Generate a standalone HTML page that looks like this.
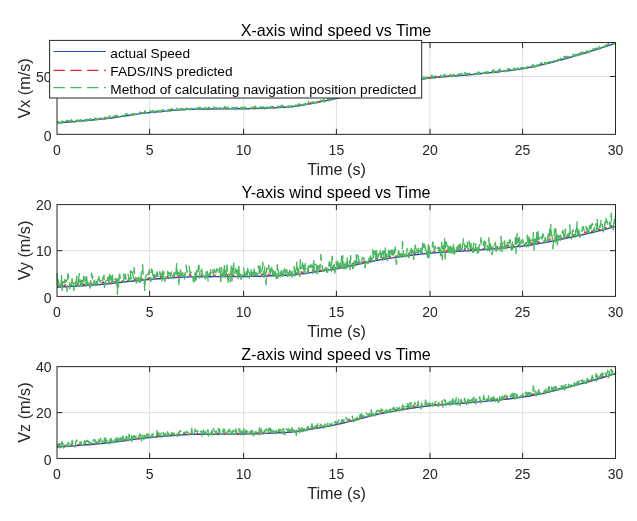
<!DOCTYPE html>
<html lang="en"><head><meta charset="utf-8"><title>Wind speed vs Time</title>
<style>html,body{margin:0;padding:0;background:#fff;}body{width:637px;height:521px;overflow:hidden;font-family:"Liberation Sans",Arial,sans-serif;}svg{display:block;}</style>
</head><body>
<svg width="637" height="521" viewBox="0 0 637 521" font-family="Liberation Sans, Arial, sans-serif">
<rect width="637" height="521" fill="#fff"/>
<g id="ax0">
<path d="M149.6 42.55V134.35M243.6 42.55V134.35M336.4 42.55V134.35M430 42.55V134.35M522.6 42.55V134.35M57 76.5H615.5" stroke="#dfdfdf" stroke-width="1" fill="none"/>
<path d="M57.0 122.9L58.9 122.8L60.7 122.6L62.6 122.5L64.5 122.4L66.3 122.2L68.2 122.1L70.0 122.0L71.9 121.8L73.8 121.7L75.6 121.5L77.5 121.4L79.4 121.2L81.2 121.0L83.1 120.9L85.0 120.7L86.8 120.5L88.7 120.4L90.6 120.2L92.4 120.0L94.3 119.8L96.1 119.6L98.0 119.4L99.9 119.2L101.7 119.1L103.6 118.9L105.5 118.7L107.3 118.4L109.2 118.2L111.1 118.0L112.9 117.7L114.8 117.5L116.6 117.2L118.5 116.9L120.4 116.6L122.2 116.4L124.1 116.1L126.0 115.8L127.8 115.5L129.7 115.2L131.6 114.9L133.4 114.7L135.3 114.4L137.2 114.1L139.0 113.9L140.9 113.6L142.7 113.4L144.6 113.2L146.5 112.9L148.3 112.7L150.2 112.5L152.1 112.4L153.9 112.2L155.8 112.0L157.7 111.8L159.5 111.6L161.4 111.5L163.2 111.3L165.1 111.1L167.0 110.9L168.8 110.8L170.7 110.6L172.6 110.4L174.4 110.3L176.3 110.1L178.2 110.0L180.0 109.8L181.9 109.7L183.8 109.6L185.6 109.5L187.5 109.4L189.3 109.3L191.2 109.2L193.1 109.2L194.9 109.1L196.8 109.1L198.7 109.1L200.5 109.1L202.4 109.0L204.3 109.0L206.1 109.0L208.0 109.0L209.8 109.0L211.7 109.0L213.6 109.0L215.4 108.9L217.3 108.9L219.2 108.9L221.0 108.9L222.9 108.9L224.8 108.9L226.6 108.9L228.5 108.9L230.4 108.9L232.2 108.9L234.1 108.9L235.9 108.8L237.8 108.8L239.7 108.8L241.5 108.8L243.4 108.8L245.3 108.7L247.1 108.7L249.0 108.7L250.9 108.6L252.7 108.6L254.6 108.5L256.4 108.5L258.3 108.4L260.2 108.4L262.0 108.3L263.9 108.2L265.8 108.2L267.6 108.1L269.5 108.0L271.4 107.9L273.2 107.8L275.1 107.7L277.0 107.6L278.8 107.5L280.7 107.4L282.5 107.3L284.4 107.2L286.3 107.1L288.1 106.9L290.0 106.8L291.9 106.7L293.7 106.5L295.6 106.2L297.5 106.0L299.3 105.7L301.2 105.4L303.0 105.1L304.9 104.7L306.8 104.4L308.6 104.0L310.5 103.7L312.4 103.3L314.2 102.9L316.1 102.6L318.0 102.2L319.8 101.9L321.7 101.5L323.6 101.2L325.4 100.8L327.3 100.4L329.1 100.0L331.0 99.7L332.9 99.3L334.7 98.8L336.6 98.4L338.5 98.0L340.3 97.6L342.2 97.1L344.1 96.6L345.9 96.1L347.8 95.6L349.6 95.1L351.5 94.6L353.4 94.1L355.2 93.5L357.1 93.0L359.0 92.5L360.8 91.9L362.7 91.4L364.6 90.9L366.4 90.3L368.3 89.8L370.2 89.3L372.0 88.8L373.9 88.3L375.7 87.9L377.6 87.4L379.5 87.0L381.3 86.6L383.2 86.2L385.1 85.8L386.9 85.4L388.8 85.0L390.7 84.6L392.5 84.2L394.4 83.9L396.2 83.5L398.1 83.1L400.0 82.8L401.8 82.4L403.7 82.1L405.6 81.8L407.4 81.4L409.3 81.1L411.2 80.8L413.0 80.5L414.9 80.2L416.8 79.9L418.6 79.6L420.5 79.3L422.3 79.1L424.2 78.8L426.1 78.6L427.9 78.3L429.8 78.1L431.7 77.9L433.5 77.7L435.4 77.5L437.3 77.3L439.1 77.2L441.0 77.0L442.8 76.8L444.7 76.7L446.6 76.5L448.4 76.4L450.3 76.2L452.2 76.1L454.0 76.0L455.9 75.8L457.8 75.7L459.6 75.5L461.5 75.4L463.4 75.2L465.2 75.1L467.1 74.9L468.9 74.8L470.8 74.6L472.7 74.5L474.5 74.3L476.4 74.1L478.3 73.9L480.1 73.7L482.0 73.5L483.9 73.4L485.7 73.2L487.6 73.0L489.4 72.8L491.3 72.6L493.2 72.4L495.0 72.2L496.9 72.0L498.8 71.8L500.6 71.6L502.5 71.4L504.4 71.2L506.2 70.9L508.1 70.7L510.0 70.5L511.8 70.2L513.7 70.0L515.5 69.7L517.4 69.4L519.3 69.2L521.1 68.9L523.0 68.6L524.9 68.3L526.7 68.0L528.6 67.6L530.5 67.3L532.3 66.9L534.2 66.5L536.0 66.1L537.9 65.7L539.8 65.3L541.6 64.8L543.5 64.4L545.4 63.9L547.2 63.5L549.1 63.0L551.0 62.5L552.8 62.0L554.7 61.5L556.6 61.0L558.4 60.5L560.3 60.0L562.1 59.5L564.0 59.0L565.9 58.5L567.7 58.0L569.6 57.5L571.5 57.0L573.3 56.4L575.2 55.9L577.1 55.4L578.9 54.9L580.8 54.3L582.6 53.8L584.5 53.2L586.4 52.7L588.2 52.1L590.1 51.5L592.0 50.9L593.8 50.3L595.7 49.8L597.6 49.2L599.4 48.6L601.3 47.9L603.2 47.3L605.0 46.7L606.9 46.1L608.7 45.5L610.6 44.8L612.5 44.2L614.3 43.5L615.5 42.9" stroke="#1f4fb4" stroke-width="1.4" fill="none" stroke-linejoin="round"/>
<path d="M57.0 122.5L57.9 122.4L58.9 122.4L59.8 122.5L60.7 122.3L61.7 122.3L62.6 122.2L63.5 121.9L64.5 122.1L65.4 122.0L66.3 121.8L67.3 121.8L68.2 121.8L69.1 121.8L70.0 121.6L71.0 121.5L71.9 121.6L72.8 121.5L73.8 121.5L74.7 121.4L75.6 121.4L76.6 121.1L77.5 121.2L78.4 120.9L79.4 120.8L80.3 120.8L81.2 121.0L82.2 120.7L83.1 120.5L84.0 120.4L85.0 120.5L85.9 120.3L86.8 120.3L87.8 120.2L88.7 119.9L89.6 120.0L90.6 119.8L91.5 119.6L92.4 119.7L93.3 119.6L94.3 119.5L95.2 119.4L96.1 119.4L97.1 119.2L98.0 118.9L98.9 119.2L99.9 118.8L100.8 118.8L101.7 118.8L102.7 118.4L103.6 118.4L104.5 118.6L105.5 118.3L106.4 118.1L107.3 118.1L108.3 117.9L109.2 117.9L110.1 117.7L111.1 117.5L112.0 117.6L112.9 117.3L113.9 117.3L114.8 117.1L115.7 117.1L116.6 116.9L117.6 116.7L118.5 116.5L119.4 116.3L120.4 116.4L121.3 116.2L122.2 115.9L123.2 116.1L124.1 115.8L125.0 115.6L126.0 115.3L126.9 115.2L127.8 115.2L128.8 115.1L129.7 114.9L130.6 114.6L131.6 114.6L132.5 114.5L133.4 114.3L134.4 114.2L135.3 114.1L136.2 114.0L137.2 113.8L138.1 113.7L139.0 113.4L139.9 113.3L140.9 113.3L141.8 113.1L142.7 113.1L143.7 112.8L144.6 112.8L145.5 112.6L146.5 112.7L147.4 112.4L148.3 112.6L149.3 112.5L150.2 112.2L151.1 112.2L152.1 112.0L153.0 111.7L153.9 111.9L154.9 111.8L155.8 111.6L156.7 111.5L157.7 111.5L158.6 111.4L159.5 111.2L160.5 111.1L161.4 111.2L162.3 111.0L163.2 110.9L164.2 111.0L165.1 110.7L166.0 110.8L167.0 110.5L167.9 110.5L168.8 110.4L169.8 110.4L170.7 110.3L171.6 110.4L172.6 110.2L173.5 110.0L174.4 110.2L175.4 109.8L176.3 110.0L177.2 109.6L178.2 109.7L179.1 109.5L180.0 109.5L181.0 109.6L181.9 109.2L182.8 109.2L183.8 109.3L184.7 109.2L185.6 109.2L186.5 109.2L187.5 108.9L188.4 109.1L189.3 109.0L190.3 109.0L191.2 109.0L192.1 109.0L193.1 108.7L194.0 108.8L194.9 108.7L195.9 108.8L196.8 108.8L197.7 108.8L198.7 108.8L199.6 108.7L200.5 108.8L201.5 108.7L202.4 108.9L203.3 108.8L204.3 108.5L205.2 108.7L206.1 108.8L207.1 108.6L208.0 108.5L208.9 108.8L209.8 108.7L210.8 108.7L211.7 108.8L212.6 108.5L213.6 108.6L214.5 108.6L215.4 108.7L216.4 108.5L217.3 108.7L218.2 108.6L219.2 108.7L220.1 108.7L221.0 108.4L222.0 108.6L222.9 108.5L223.8 108.6L224.8 108.6L225.7 108.6L226.6 108.5L227.6 108.6L228.5 108.6L229.4 108.5L230.4 108.4L231.3 108.4L232.2 108.5L233.1 108.6L234.1 108.7L235.0 108.4L235.9 108.4L236.9 108.5L237.8 108.4L238.7 108.4L239.7 108.4L240.6 108.3L241.5 108.5L242.5 108.3L243.4 108.6L244.3 108.3L245.3 108.3L246.2 108.3L247.1 108.1L248.1 108.2L249.0 108.5L249.9 108.5L250.9 108.2L251.8 108.4L252.7 108.2L253.7 108.1L254.6 108.4L255.5 108.4L256.4 108.1L257.4 108.1L258.3 108.1L259.2 108.1L260.2 108.1L261.1 108.2L262.0 108.0L263.0 108.0L263.9 108.1L264.8 107.8L265.8 107.8L266.7 107.7L267.6 107.9L268.6 107.8L269.5 107.8L270.4 107.7L271.4 107.5L272.3 107.6L273.2 107.4L274.2 107.4L275.1 107.1L276.0 107.5L277.0 107.2L277.9 107.2L278.8 107.2L279.7 107.3L280.7 107.1L281.6 106.9L282.5 107.0L283.5 106.9L284.4 106.9L285.3 106.6L286.3 106.7L287.2 106.9L288.1 106.7L289.1 106.8L290.0 106.8L290.9 106.5L291.9 106.2L292.8 106.2L293.7 106.3L294.7 106.1L295.6 105.8L296.5 105.8L297.5 105.6L298.4 105.5L299.3 105.4L300.3 105.1L301.2 105.0L302.1 104.9L303.0 104.9L304.0 104.5L304.9 104.5L305.8 104.1L306.8 104.2L307.7 103.9L308.6 103.7L309.6 103.6L310.5 103.1L311.4 103.0L312.4 103.0L313.3 102.7L314.2 102.5L315.2 102.7L316.1 102.2L317.0 102.1L318.0 101.9L318.9 101.8L319.8 101.6L320.8 101.4L321.7 101.0L322.6 101.0L323.6 100.8L324.5 100.5L325.4 100.5L326.3 100.3L327.3 100.3L328.2 99.7L329.1 99.6L330.1 99.4L331.0 99.2L331.9 99.1L332.9 98.9L333.8 98.7L334.7 98.5L335.7 98.3L336.6 97.9L337.5 97.8L338.5 97.7L339.4 97.5L340.3 97.3L341.3 96.8L342.2 96.7L343.1 96.5L344.1 96.3L345.0 96.2L345.9 95.8L346.9 95.4L347.8 95.3L348.7 95.0L349.6 94.8L350.6 94.5L351.5 94.4L352.4 94.0L353.4 93.8L354.3 93.4L355.2 93.3L356.2 92.9L357.1 92.5L358.0 92.4L359.0 92.2L359.9 91.8L360.8 91.6L361.8 91.4L362.7 91.0L363.6 90.6L364.6 90.6L365.5 90.3L366.4 90.1L367.4 89.7L368.3 89.6L369.2 89.4L370.2 88.8L371.1 88.8L372.0 88.4L372.9 88.1L373.9 88.0L374.8 87.7L375.7 87.3L376.7 87.3L377.6 87.1L378.5 87.0L379.5 86.6L380.4 86.2L381.3 86.1L382.3 86.1L383.2 85.9L384.1 85.7L385.1 85.4L386.0 85.3L386.9 85.0L387.9 84.8L388.8 84.7L389.7 84.5L390.7 84.3L391.6 84.1L392.5 83.8L393.5 83.5L394.4 83.5L395.3 83.3L396.2 83.4L397.2 82.9L398.1 83.0L399.0 82.8L400.0 82.4L400.9 82.2L401.8 82.1L402.8 82.1L403.7 81.8L404.6 81.7L405.6 81.3L406.5 81.0L407.4 81.1L408.4 81.0L409.3 80.9L410.2 80.6L411.2 80.5L412.1 80.4L413.0 80.1L414.0 80.1L414.9 79.7L415.8 79.6L416.8 79.4L417.7 79.5L418.6 79.2L419.5 79.1L420.5 79.0L421.4 78.9L422.3 78.9L423.3 78.8L424.2 78.4L425.1 78.4L426.1 78.2L427.0 78.0L427.9 78.2L428.9 78.0L429.8 77.8L430.7 77.6L431.7 77.6L432.6 77.4L433.5 77.3L434.5 77.4L435.4 77.3L436.3 77.0L437.3 76.9L438.2 77.1L439.1 76.7L440.1 76.7L441.0 76.5L441.9 76.6L442.8 76.5L443.8 76.5L444.7 76.0L445.6 76.3L446.6 76.0L447.5 76.2L448.4 76.0L449.4 76.2L450.3 75.9L451.2 75.7L452.2 75.9L453.1 75.6L454.0 75.6L455.0 75.7L455.9 75.5L456.8 75.5L457.8 75.3L458.7 75.3L459.6 75.3L460.6 75.2L461.5 75.2L462.4 75.1L463.4 74.9L464.3 74.7L465.2 74.9L466.1 74.7L467.1 74.7L468.0 74.6L468.9 74.3L469.9 74.4L470.8 74.1L471.7 74.3L472.7 74.1L473.6 74.1L474.5 74.0L475.5 73.8L476.4 73.8L477.3 73.6L478.3 73.6L479.2 73.6L480.1 73.4L481.1 73.3L482.0 73.1L482.9 73.2L483.9 73.0L484.8 73.1L485.7 72.8L486.7 72.9L487.6 72.8L488.5 72.6L489.4 72.3L490.4 72.5L491.3 72.4L492.2 72.2L493.2 72.2L494.1 71.9L495.0 72.0L496.0 71.8L496.9 71.6L497.8 71.6L498.8 71.4L499.7 71.5L500.6 71.4L501.6 71.3L502.5 70.8L503.4 71.0L504.4 70.8L505.3 70.7L506.2 70.6L507.2 70.5L508.1 70.1L509.0 70.4L510.0 70.3L510.9 70.1L511.8 70.0L512.7 69.7L513.7 69.5L514.6 69.6L515.5 69.5L516.5 69.3L517.4 68.9L518.3 69.3L519.3 68.8L520.2 68.8L521.1 68.4L522.1 68.5L523.0 68.3L523.9 68.3L524.9 68.1L525.8 67.6L526.7 67.5L527.7 67.5L528.6 67.4L529.5 67.3L530.5 67.0L531.4 66.7L532.3 66.6L533.3 66.4L534.2 66.3L535.1 66.0L536.0 65.8L537.0 65.4L537.9 65.1L538.8 65.2L539.8 65.0L540.7 64.7L541.6 64.6L542.6 64.3L543.5 64.0L544.4 63.9L545.4 63.5L546.3 63.4L547.2 63.1L548.2 62.9L549.1 62.7L550.0 62.5L551.0 62.2L551.9 62.0L552.8 61.6L553.8 61.4L554.7 61.3L555.6 60.9L556.6 60.8L557.5 60.5L558.4 60.2L559.3 60.2L560.3 59.7L561.2 59.4L562.1 59.2L563.1 58.9L564.0 58.7L564.9 58.5L565.9 58.2L566.8 57.9L567.7 57.6L568.7 57.5L569.6 57.1L570.5 56.9L571.5 56.6L572.4 56.4L573.3 56.0L574.3 56.0L575.2 55.5L576.1 55.3L577.1 55.0L578.0 54.7L578.9 54.6L579.9 54.3L580.8 53.9L581.7 53.6L582.6 53.4L583.6 53.3L584.5 52.8L585.4 52.5L586.4 52.2L587.3 52.0L588.2 51.9L589.2 51.3L590.1 51.2L591.0 51.2L592.0 50.5L592.9 50.5L593.8 50.2L594.8 49.8L595.7 49.3L596.6 49.2L597.6 48.8L598.5 48.3L599.4 48.0L600.4 47.9L601.3 47.6L602.2 47.4L603.2 47.1L604.1 46.6L605.0 46.3L605.9 46.0L606.9 45.6L607.8 45.5L608.7 45.1L609.7 44.7L610.6 44.4L611.5 44.0L612.5 43.8L613.4 43.6L614.3 43.2L615.3 43.0L615.5 42.7" stroke="#f0282d" stroke-width="1.6" fill="none" stroke-dasharray="2.5 7" stroke-linejoin="round"/>
<path d="M57.0 121.7L57.6 122.1L58.1 121.8L58.7 123.1L59.2 122.2L59.8 122.3L60.4 122.5L60.9 123.4L61.5 122.0L62.0 121.1L62.6 121.4L63.2 122.1L63.7 121.6L64.3 121.1L64.8 123.5L65.4 121.6L65.9 121.1L66.5 121.0L67.1 120.2L67.6 120.6L68.2 121.1L68.7 121.1L69.3 120.7L69.9 121.5L70.4 121.2L71.0 120.5L71.5 119.7L72.1 121.1L72.7 121.0L73.2 120.8L73.8 119.9L74.3 120.8L74.9 119.8L75.5 121.4L76.0 120.8L76.6 120.8L77.1 120.0L77.7 119.8L78.2 121.5L78.8 121.1L79.4 120.2L79.9 120.8L80.5 121.4L81.0 119.5L81.6 119.9L82.2 119.8L82.7 120.4L83.3 119.3L83.8 120.2L84.4 119.2L85.0 120.5L85.5 120.4L86.1 119.7L86.6 120.2L87.2 119.2L87.8 119.5L88.3 120.2L88.9 119.5L89.4 119.7L90.0 118.8L90.6 119.8L91.1 119.6L91.7 118.4L92.2 117.7L92.8 117.8L93.3 119.1L93.9 118.9L94.5 117.9L95.0 119.0L95.6 119.6L96.1 118.7L96.7 118.5L97.3 119.3L97.8 119.8L98.4 119.6L98.9 118.1L99.5 119.0L100.1 118.5L100.6 118.2L101.2 117.9L101.7 118.5L102.3 117.8L102.9 118.7L103.4 118.3L104.0 118.7L104.5 117.2L105.1 117.9L105.7 118.3L106.2 118.0L106.8 117.9L107.3 117.2L107.9 118.7L108.4 118.2L109.0 117.7L109.6 115.6L110.1 116.6L110.7 117.3L111.2 116.6L111.8 115.6L112.4 117.2L112.9 117.2L113.5 116.0L114.0 116.4L114.6 116.2L115.2 117.0L115.7 115.2L116.3 115.3L116.8 116.0L117.4 115.8L118.0 117.6L118.5 115.7L119.1 116.2L119.6 115.6L120.2 115.4L120.7 116.0L121.3 116.9L121.9 115.4L122.4 116.0L123.0 115.7L123.5 115.8L124.1 115.5L124.7 116.8L125.2 114.3L125.8 114.8L126.3 114.2L126.9 113.5L127.5 114.7L128.0 115.9L128.6 115.2L129.1 115.3L129.7 114.8L130.3 114.3L130.8 115.6L131.4 113.9L131.9 115.1L132.5 113.8L133.1 114.0L133.6 114.0L134.2 113.8L134.7 114.0L135.3 114.0L135.8 114.7L136.4 113.4L137.0 112.1L137.5 111.9L138.1 112.3L138.6 112.6L139.2 113.5L139.8 112.0L140.3 112.9L140.9 112.9L141.4 112.9L142.0 112.6L142.6 112.9L143.1 112.6L143.7 113.2L144.2 112.6L144.8 110.8L145.4 112.3L145.9 112.4L146.5 111.8L147.0 111.6L147.6 112.8L148.1 112.1L148.7 111.3L149.3 111.6L149.8 111.7L150.4 110.7L150.9 112.1L151.5 111.6L152.1 111.9L152.6 110.5L153.2 112.8L153.7 111.9L154.3 111.7L154.9 110.8L155.4 110.8L156.0 110.2L156.5 112.2L157.1 110.6L157.7 111.2L158.2 111.4L158.8 110.5L159.3 111.5L159.9 112.2L160.5 111.0L161.0 111.7L161.6 111.1L162.1 110.3L162.7 110.3L163.2 109.4L163.8 110.6L164.4 111.4L164.9 110.8L165.5 110.9L166.0 111.0L166.6 109.9L167.2 110.5L167.7 111.4L168.3 109.5L168.8 110.0L169.4 109.7L170.0 109.8L170.5 109.4L171.1 109.7L171.6 108.9L172.2 109.4L172.8 109.3L173.3 109.3L173.9 110.5L174.4 109.6L175.0 109.6L175.6 109.2L176.1 110.3L176.7 108.2L177.2 109.2L177.8 110.0L178.3 110.3L178.9 109.3L179.5 109.1L180.0 109.5L180.6 108.9L181.1 109.4L181.7 108.5L182.3 109.4L182.8 108.9L183.4 108.1L183.9 107.0L184.5 109.4L185.1 109.0L185.6 109.3L186.2 108.1L186.7 109.4L187.3 108.9L187.9 108.6L188.4 109.2L189.0 109.2L189.5 108.8L190.1 109.9L190.6 109.5L191.2 108.7L191.8 108.3L192.3 108.5L192.9 109.6L193.4 108.7L194.0 107.8L194.6 108.0L195.1 108.4L195.7 108.9L196.2 107.9L196.8 108.7L197.4 109.1L197.9 108.8L198.5 107.3L199.0 108.1L199.6 107.5L200.2 108.6L200.7 107.6L201.3 108.7L201.8 108.4L202.4 106.5L203.0 107.7L203.5 108.6L204.1 108.3L204.6 108.0L205.2 107.4L205.7 108.5L206.3 109.4L206.9 108.4L207.4 108.2L208.0 108.1L208.5 107.3L209.1 108.0L209.7 107.6L210.2 108.9L210.8 107.6L211.3 106.7L211.9 107.6L212.5 108.0L213.0 108.1L213.6 106.9L214.1 108.8L214.7 108.2L215.3 107.8L215.8 107.6L216.4 108.4L216.9 107.9L217.5 108.3L218.0 108.1L218.6 108.2L219.2 108.9L219.7 108.1L220.3 107.5L220.8 108.8L221.4 108.3L222.0 107.7L222.5 108.9L223.1 108.0L223.6 108.8L224.2 107.3L224.8 106.5L225.3 106.7L225.9 108.2L226.4 107.6L227.0 108.0L227.6 108.0L228.1 107.0L228.7 109.0L229.2 107.4L229.8 108.1L230.4 107.1L230.9 107.9L231.5 108.5L232.0 107.9L232.6 107.6L233.1 108.0L233.7 107.7L234.3 108.4L234.8 109.5L235.4 107.4L235.9 107.6L236.5 107.9L237.1 108.0L237.6 107.3L238.2 108.3L238.7 108.5L239.3 108.1L239.9 107.2L240.4 108.9L241.0 107.2L241.5 108.4L242.1 108.7L242.7 107.1L243.2 108.0L243.8 108.8L244.3 108.2L244.9 107.3L245.5 107.1L246.0 108.2L246.6 107.6L247.1 107.4L247.7 108.3L248.2 107.6L248.8 107.9L249.4 108.2L249.9 108.2L250.5 107.8L251.0 107.8L251.6 108.2L252.2 108.1L252.7 107.0L253.3 107.6L253.8 107.1L254.4 106.9L255.0 107.3L255.5 106.1L256.1 108.3L256.6 107.1L257.2 107.9L257.8 106.4L258.3 106.5L258.9 109.0L259.4 108.3L260.0 107.1L260.5 107.0L261.1 107.0L261.7 107.6L262.2 107.2L262.8 107.0L263.3 107.5L263.9 106.7L264.5 109.0L265.0 107.0L265.6 108.1L266.1 106.7L266.7 107.5L267.3 107.9L267.8 107.0L268.4 107.9L268.9 107.8L269.5 108.3L270.1 107.2L270.6 106.8L271.2 106.4L271.7 107.2L272.3 106.3L272.9 107.0L273.4 107.1L274.0 106.6L274.5 106.2L275.1 107.2L275.6 107.1L276.2 107.0L276.8 106.8L277.3 107.4L277.9 106.1L278.4 107.0L279.0 106.4L279.6 107.2L280.1 106.4L280.7 106.3L281.2 106.9L281.8 105.2L282.4 106.3L282.9 105.3L283.5 105.8L284.0 106.9L284.6 106.6L285.2 106.0L285.7 106.3L286.3 106.2L286.8 106.4L287.4 107.4L287.9 106.3L288.5 107.6L289.1 105.8L289.6 106.5L290.2 106.5L290.7 106.1L291.3 105.7L291.9 106.8L292.4 107.0L293.0 106.5L293.5 107.1L294.1 106.3L294.7 104.5L295.2 106.2L295.8 105.0L296.3 106.3L296.9 105.1L297.5 105.4L298.0 105.1L298.6 104.6L299.1 103.7L299.7 104.7L300.3 104.7L300.8 105.3L301.4 104.2L301.9 104.6L302.5 103.8L303.0 104.3L303.6 103.0L304.2 105.4L304.7 104.2L305.3 103.3L305.8 104.0L306.4 104.2L307.0 103.7L307.5 104.4L308.1 103.2L308.6 101.5L309.2 102.3L309.8 103.8L310.3 103.5L310.9 103.1L311.4 102.0L312.0 103.1L312.6 102.9L313.1 101.7L313.7 101.6L314.2 102.4L314.8 102.8L315.4 103.0L315.9 102.3L316.5 103.2L317.0 101.1L317.6 101.9L318.1 101.1L318.7 100.0L319.3 100.4L319.8 101.9L320.4 100.4L320.9 100.1L321.5 101.3L322.1 101.3L322.6 100.6L323.2 101.5L323.7 99.3L324.3 101.9L324.9 100.9L325.4 100.2L326.0 100.0L326.5 99.7L327.1 99.5L327.7 99.7L328.2 98.6L328.8 100.8L329.3 99.2L329.9 99.6L330.4 98.9L331.0 98.7L331.6 99.4L332.1 99.1L332.7 97.9L333.2 98.1L333.8 98.7L334.4 96.7L334.9 96.4L335.5 98.9L336.0 97.5L336.6 95.9L337.2 97.0L337.7 97.2L338.3 97.4L338.8 97.5L339.4 97.1L340.0 97.2L340.5 96.2L341.1 96.8L341.6 96.7L342.2 97.1L342.8 96.2L343.3 96.6L343.9 96.0L344.4 95.0L345.0 95.3L345.5 95.1L346.1 95.0L346.7 95.1L347.2 95.1L347.8 95.0L348.3 94.1L348.9 95.3L349.5 93.4L350.0 94.2L350.6 94.6L351.1 94.2L351.7 94.2L352.3 93.5L352.8 93.9L353.4 92.5L353.9 93.6L354.5 94.5L355.1 93.3L355.6 94.0L356.2 92.5L356.7 91.6L357.3 91.7L357.8 92.9L358.4 92.3L359.0 90.4L359.5 91.3L360.1 91.3L360.6 90.5L361.2 89.3L361.8 90.0L362.3 90.6L362.9 90.3L363.4 90.0L364.0 90.6L364.6 90.8L365.1 89.9L365.7 90.4L366.2 89.6L366.8 89.4L367.4 87.7L367.9 89.7L368.5 89.1L369.0 88.9L369.6 88.4L370.2 87.8L370.7 88.7L371.3 88.8L371.8 89.2L372.4 88.6L372.9 87.4L373.5 87.6L374.1 88.2L374.6 87.6L375.2 87.2L375.7 86.7L376.3 87.3L376.9 87.0L377.4 87.9L378.0 87.3L378.5 85.3L379.1 87.8L379.7 86.4L380.2 85.8L380.8 86.1L381.3 86.3L381.9 85.7L382.5 85.5L383.0 85.4L383.6 86.6L384.1 85.3L384.7 85.6L385.3 85.3L385.8 84.7L386.4 84.3L386.9 84.0L387.5 84.8L388.0 83.7L388.6 83.4L389.2 83.3L389.7 83.1L390.3 84.0L390.8 83.9L391.4 83.1L392.0 84.5L392.5 83.3L393.1 83.7L393.6 83.5L394.2 84.3L394.8 83.6L395.3 82.9L395.9 82.2L396.4 82.0L397.0 82.6L397.6 82.6L398.1 82.9L398.7 82.0L399.2 82.3L399.8 81.6L400.3 80.7L400.9 81.8L401.5 82.7L402.0 82.2L402.6 82.5L403.1 82.2L403.7 80.4L404.3 81.0L404.8 82.1L405.4 80.5L405.9 80.0L406.5 81.0L407.1 81.2L407.6 80.8L408.2 80.3L408.7 80.0L409.3 79.5L409.9 79.4L410.4 79.3L411.0 79.1L411.5 79.5L412.1 80.9L412.7 79.8L413.2 79.4L413.8 79.8L414.3 78.8L414.9 79.6L415.4 79.9L416.0 78.2L416.6 78.7L417.1 78.9L417.7 78.3L418.2 78.1L418.8 78.5L419.4 80.4L419.9 79.1L420.5 78.8L421.0 79.1L421.6 78.2L422.2 77.5L422.7 78.5L423.3 78.9L423.8 76.7L424.4 78.3L425.0 78.8L425.5 77.7L426.1 77.5L426.6 78.2L427.2 77.1L427.7 77.9L428.3 78.1L428.9 77.3L429.4 76.8L430.0 77.7L430.5 77.0L431.1 77.2L431.7 75.2L432.2 77.5L432.8 76.0L433.3 77.0L433.9 77.0L434.5 76.3L435.0 76.1L435.6 75.8L436.1 76.4L436.7 77.0L437.3 76.9L437.8 76.1L438.4 76.0L438.9 75.4L439.5 76.0L440.1 75.6L440.6 75.2L441.2 76.1L441.7 77.2L442.3 76.9L442.8 77.0L443.4 74.9L444.0 76.5L444.5 75.0L445.1 75.4L445.6 74.6L446.2 75.1L446.8 75.8L447.3 75.8L447.9 75.6L448.4 75.5L449.0 75.9L449.6 75.5L450.1 74.3L450.7 76.6L451.2 75.2L451.8 75.9L452.4 75.2L452.9 74.7L453.5 75.2L454.0 74.6L454.6 76.2L455.2 74.3L455.7 75.4L456.3 74.6L456.8 74.8L457.4 76.7L457.9 75.4L458.5 74.7L459.1 73.7L459.6 74.5L460.2 74.5L460.7 75.6L461.3 73.6L461.9 73.3L462.4 74.5L463.0 74.6L463.5 75.5L464.1 73.8L464.7 72.5L465.2 73.8L465.8 73.4L466.3 73.8L466.9 74.8L467.5 73.2L468.0 74.9L468.6 74.2L469.1 73.8L469.7 73.3L470.2 73.6L470.8 73.6L471.4 74.3L471.9 74.6L472.5 73.6L473.0 74.1L473.6 74.5L474.2 74.4L474.7 73.8L475.3 74.7L475.8 74.3L476.4 74.4L477.0 73.1L477.5 72.9L478.1 71.8L478.6 74.1L479.2 73.5L479.8 72.3L480.3 73.1L480.9 73.1L481.4 71.6L482.0 73.0L482.6 73.5L483.1 73.5L483.7 72.3L484.2 72.3L484.8 73.4L485.3 73.1L485.9 72.0L486.5 71.9L487.0 72.7L487.6 71.8L488.1 71.7L488.7 73.3L489.3 72.2L489.8 71.7L490.4 72.3L490.9 73.3L491.5 72.0L492.1 71.2L492.6 70.6L493.2 73.1L493.7 69.7L494.3 72.3L494.9 70.8L495.4 70.5L496.0 70.6L496.5 71.1L497.1 72.0L497.6 70.7L498.2 71.5L498.8 72.7L499.3 69.0L499.9 70.4L500.4 69.6L501.0 71.4L501.6 69.7L502.1 69.5L502.7 69.5L503.2 70.5L503.8 71.2L504.4 70.5L504.9 71.8L505.5 71.4L506.0 70.1L506.6 70.8L507.2 70.1L507.7 70.0L508.3 68.5L508.8 68.9L509.4 69.8L510.0 68.8L510.5 70.1L511.1 69.7L511.6 68.8L512.2 70.2L512.7 69.5L513.3 70.1L513.9 69.1L514.4 67.9L515.0 69.5L515.5 68.7L516.1 69.4L516.7 69.5L517.2 69.5L517.8 67.6L518.3 66.9L518.9 68.1L519.5 68.8L520.0 67.8L520.6 68.4L521.1 67.5L521.7 67.8L522.3 67.7L522.8 67.4L523.4 68.1L523.9 67.9L524.5 68.7L525.1 67.8L525.6 68.3L526.2 67.4L526.7 67.8L527.3 67.0L527.8 66.7L528.4 67.8L529.0 67.3L529.5 67.3L530.1 66.0L530.6 65.3L531.2 65.7L531.8 66.5L532.3 65.1L532.9 67.0L533.4 64.8L534.0 66.2L534.6 67.5L535.1 63.7L535.7 64.3L536.2 66.0L536.8 65.0L537.4 65.2L537.9 64.8L538.5 65.8L539.0 65.1L539.6 64.2L540.1 64.2L540.7 63.4L541.3 64.1L541.8 62.4L542.4 64.3L542.9 63.5L543.5 64.9L544.1 64.3L544.6 62.4L545.2 63.8L545.7 62.7L546.3 62.9L546.9 63.5L547.4 62.8L548.0 62.8L548.5 62.7L549.1 61.7L549.7 61.6L550.2 62.3L550.8 62.4L551.3 61.4L551.9 61.5L552.5 60.6L553.0 59.3L553.6 60.4L554.1 60.9L554.7 60.8L555.2 61.1L555.8 61.0L556.4 61.0L556.9 60.4L557.5 60.3L558.0 59.3L558.6 59.9L559.2 59.6L559.7 60.2L560.3 58.1L560.8 58.7L561.4 57.7L562.0 58.2L562.5 57.6L563.1 58.6L563.6 57.8L564.2 56.3L564.8 58.8L565.3 57.0L565.9 56.5L566.4 57.2L567.0 56.8L567.5 56.3L568.1 57.5L568.7 56.6L569.2 57.4L569.8 57.1L570.3 56.9L570.9 56.4L571.5 56.1L572.0 55.7L572.6 56.8L573.1 54.3L573.7 54.7L574.3 54.9L574.8 55.5L575.4 55.1L575.9 54.5L576.5 54.5L577.1 55.8L577.6 53.9L578.2 52.2L578.7 55.4L579.3 53.2L579.9 53.5L580.4 53.7L581.0 52.5L581.5 54.1L582.1 53.0L582.6 51.9L583.2 52.9L583.8 52.9L584.3 52.4L584.9 52.6L585.4 51.0L586.0 52.6L586.6 51.2L587.1 52.5L587.7 51.0L588.2 51.4L588.8 52.9L589.4 50.9L589.9 51.5L590.5 50.9L591.0 49.3L591.6 51.0L592.2 50.8L592.7 48.9L593.3 49.6L593.8 48.5L594.4 49.1L595.0 49.8L595.5 49.1L596.1 48.0L596.6 48.0L597.2 48.5L597.7 48.3L598.3 48.2L598.9 48.3L599.4 46.4L600.0 47.6L600.5 48.2L601.1 47.5L601.7 46.5L602.2 46.4L602.8 46.8L603.3 46.9L603.9 46.3L604.5 47.3L605.0 46.8L605.6 45.2L606.1 45.9L606.7 45.1L607.3 44.3L607.8 44.5L608.4 44.8L608.9 43.1L609.5 43.9L610.0 44.5L610.6 43.5L611.2 43.5L611.7 44.2L612.3 43.4L612.8 43.4L613.4 44.5L614.0 43.0L614.5 42.9L615.1 42.8L615.5 43.5L615.5 42.5" stroke="#4cb762" stroke-width="1.4" fill="none" stroke-dasharray="11.5 4.5" stroke-linejoin="round"/>
<rect x="57" y="42.55" width="558.5" height="91.8" fill="none" stroke="#262626" stroke-width="1"/>
<path d="M149.6 134.35v-5.5M149.6 42.55v5.5M243.6 134.35v-5.5M243.6 42.55v5.5M336.4 134.35v-5.5M336.4 42.55v5.5M430 134.35v-5.5M430 42.55v5.5M522.6 134.35v-5.5M522.6 42.55v5.5M57 76.5h5.5M615.5 76.5h-5.5" stroke="#262626" stroke-width="1" fill="none"/>
<g font-size="14" fill="#262626">
<text x="57" y="154.55" text-anchor="middle">0</text>
<text x="149.6" y="154.55" text-anchor="middle">5</text>
<text x="243.6" y="154.55" text-anchor="middle">10</text>
<text x="336.4" y="154.55" text-anchor="middle">15</text>
<text x="430" y="154.55" text-anchor="middle">20</text>
<text x="522.6" y="154.55" text-anchor="middle">25</text>
<text x="615.6" y="154.55" text-anchor="middle">30</text>
<text x="51.5" y="140.75" text-anchor="end">0</text>
<text x="51.5" y="82" text-anchor="end">50</text>
</g>
<text x="336.6" y="174.55" font-size="16.2" fill="#262626" text-anchor="middle">Time (s)</text>
<text transform="translate(29.8 88.45) rotate(-90)" font-size="16.2" fill="#262626" text-anchor="middle">Vx (m/s)</text>
<text x="336" y="35.65" font-size="16.1" fill="#000" text-anchor="middle">X-axis wind speed vs Time</text>
</g>
<g id="ax1">
<path d="M149.6 204.6V296.4M243.6 204.6V296.4M336.4 204.6V296.4M430 204.6V296.4M522.6 204.6V296.4M57 250.7H615.5" stroke="#dfdfdf" stroke-width="1" fill="none"/>
<path d="M57.0 287.2L58.9 287.1L60.7 287.0L62.6 286.9L64.5 286.8L66.3 286.7L68.2 286.6L70.0 286.5L71.9 286.4L73.8 286.3L75.6 286.2L77.5 286.1L79.4 285.9L81.2 285.8L83.1 285.7L85.0 285.6L86.8 285.4L88.7 285.3L90.6 285.2L92.4 285.0L94.3 284.9L96.1 284.8L98.0 284.6L99.9 284.5L101.7 284.3L103.6 284.2L105.5 284.0L107.3 283.8L109.2 283.7L111.1 283.5L112.9 283.3L114.8 283.1L116.6 282.9L118.5 282.7L120.4 282.5L122.2 282.3L124.1 282.1L126.0 281.8L127.8 281.6L129.7 281.4L131.6 281.2L133.4 281.0L135.3 280.8L137.2 280.6L139.0 280.4L140.9 280.2L142.7 280.0L144.6 279.8L146.5 279.7L148.3 279.5L150.2 279.4L152.1 279.2L153.9 279.1L155.8 279.0L157.7 278.8L159.5 278.7L161.4 278.5L163.2 278.4L165.1 278.3L167.0 278.1L168.8 278.0L170.7 277.9L172.6 277.8L174.4 277.6L176.3 277.5L178.2 277.4L180.0 277.3L181.9 277.2L183.8 277.1L185.6 277.1L187.5 277.0L189.3 276.9L191.2 276.9L193.1 276.8L194.9 276.8L196.8 276.8L198.7 276.7L200.5 276.7L202.4 276.7L204.3 276.7L206.1 276.7L208.0 276.7L209.8 276.7L211.7 276.7L213.6 276.6L215.4 276.6L217.3 276.6L219.2 276.6L221.0 276.6L222.9 276.6L224.8 276.6L226.6 276.6L228.5 276.6L230.4 276.6L232.2 276.6L234.1 276.6L235.9 276.6L237.8 276.5L239.7 276.5L241.5 276.5L243.4 276.5L245.3 276.5L247.1 276.5L249.0 276.4L250.9 276.4L252.7 276.4L254.6 276.3L256.4 276.3L258.3 276.2L260.2 276.2L262.0 276.1L263.9 276.1L265.8 276.0L267.6 276.0L269.5 275.9L271.4 275.8L273.2 275.8L275.1 275.7L277.0 275.6L278.8 275.6L280.7 275.5L282.5 275.4L284.4 275.3L286.3 275.2L288.1 275.1L290.0 275.0L291.9 274.9L293.7 274.8L295.6 274.6L297.5 274.4L299.3 274.2L301.2 273.9L303.0 273.7L304.9 273.4L306.8 273.2L308.6 272.9L310.5 272.6L312.4 272.3L314.2 272.1L316.1 271.8L318.0 271.5L319.8 271.3L321.7 271.0L323.6 270.7L325.4 270.4L327.3 270.2L329.1 269.9L331.0 269.6L332.9 269.3L334.7 269.0L336.6 268.6L338.5 268.3L340.3 268.0L342.2 267.6L344.1 267.3L345.9 266.9L347.8 266.5L349.6 266.1L351.5 265.7L353.4 265.3L355.2 264.9L357.1 264.5L359.0 264.1L360.8 263.7L362.7 263.3L364.6 262.9L366.4 262.5L368.3 262.1L370.2 261.7L372.0 261.3L373.9 261.0L375.7 260.6L377.6 260.3L379.5 259.9L381.3 259.6L383.2 259.3L385.1 259.0L386.9 258.7L388.8 258.4L390.7 258.1L392.5 257.9L394.4 257.6L396.2 257.3L398.1 257.0L400.0 256.8L401.8 256.5L403.7 256.2L405.6 256.0L407.4 255.7L409.3 255.5L411.2 255.2L413.0 255.0L414.9 254.8L416.8 254.6L418.6 254.3L420.5 254.1L422.3 253.9L424.2 253.7L426.1 253.6L427.9 253.4L429.8 253.2L431.7 253.0L433.5 252.9L435.4 252.8L437.3 252.6L439.1 252.5L441.0 252.4L442.8 252.2L444.7 252.1L446.6 252.0L448.4 251.9L450.3 251.8L452.2 251.7L454.0 251.6L455.9 251.5L457.8 251.3L459.6 251.2L461.5 251.1L463.4 251.0L465.2 250.9L467.1 250.8L468.9 250.7L470.8 250.6L472.7 250.4L474.5 250.3L476.4 250.2L478.3 250.0L480.1 249.9L482.0 249.7L483.9 249.6L485.7 249.4L487.6 249.3L489.4 249.2L491.3 249.0L493.2 248.9L495.0 248.7L496.9 248.6L498.8 248.4L500.6 248.2L502.5 248.1L504.4 247.9L506.2 247.7L508.1 247.6L510.0 247.4L511.8 247.2L513.7 247.0L515.5 246.8L517.4 246.6L519.3 246.4L521.1 246.2L523.0 246.0L524.9 245.7L526.7 245.5L528.6 245.2L530.5 245.0L532.3 244.7L534.2 244.4L536.0 244.1L537.9 243.8L539.8 243.4L541.6 243.1L543.5 242.8L545.4 242.4L547.2 242.1L549.1 241.7L551.0 241.3L552.8 241.0L554.7 240.6L556.6 240.2L558.4 239.8L560.3 239.4L562.1 239.1L564.0 238.7L565.9 238.3L567.7 237.9L569.6 237.5L571.5 237.1L573.3 236.7L575.2 236.3L577.1 235.9L578.9 235.5L580.8 235.1L582.6 234.7L584.5 234.3L586.4 233.9L588.2 233.4L590.1 233.0L592.0 232.5L593.8 232.1L595.7 231.6L597.6 231.2L599.4 230.7L601.3 230.3L603.2 229.8L605.0 229.3L606.9 228.9L608.7 228.4L610.6 227.9L612.5 227.4L614.3 226.9L615.5 226.4" stroke="#1f4fb4" stroke-width="1.4" fill="none" stroke-linejoin="round"/>
<path d="M57.0 285.9L57.9 285.8L58.9 286.3L59.8 285.4L60.7 286.2L61.7 285.7L62.6 285.0L63.5 285.8L64.5 285.7L65.4 284.9L66.3 285.5L67.3 285.5L68.2 285.2L69.1 284.7L70.0 286.2L71.0 285.5L71.9 285.5L72.8 285.5L73.8 285.3L74.7 285.3L75.6 284.7L76.6 285.2L77.5 284.6L78.4 284.4L79.4 284.9L80.3 284.4L81.2 283.7L82.2 284.2L83.1 284.6L84.0 284.3L85.0 284.6L85.9 284.0L86.8 283.7L87.8 284.4L88.7 284.0L89.6 283.3L90.6 284.0L91.5 283.6L92.4 284.1L93.3 284.0L94.3 283.8L95.2 282.4L96.1 283.6L97.1 283.5L98.0 283.5L98.9 283.2L99.9 282.8L100.8 282.9L101.7 282.0L102.7 282.8L103.6 282.1L104.5 282.6L105.5 282.4L106.4 283.2L107.3 282.5L108.3 282.4L109.2 282.4L110.1 283.2L111.1 281.7L112.0 282.2L112.9 282.1L113.9 281.9L114.8 281.8L115.7 281.4L116.6 282.1L117.6 281.8L118.5 281.2L119.4 281.1L120.4 281.3L121.3 281.3L122.2 281.3L123.2 280.8L124.1 280.1L125.0 281.1L126.0 279.8L126.9 280.0L127.8 280.4L128.8 279.8L129.7 280.7L130.6 280.7L131.6 280.4L132.5 279.9L133.4 279.8L134.4 279.7L135.3 279.3L136.2 280.3L137.2 279.0L138.1 279.7L139.0 279.3L139.9 279.1L140.9 279.3L141.8 279.3L142.7 279.1L143.7 278.5L144.6 278.2L145.5 278.1L146.5 278.7L147.4 278.6L148.3 278.6L149.3 277.9L150.2 278.9L151.1 277.4L152.1 278.1L153.0 278.1L153.9 277.6L154.9 277.2L155.8 277.4L156.7 277.0L157.7 277.4L158.6 276.8L159.5 276.7L160.5 277.3L161.4 276.5L162.3 277.0L163.2 277.0L164.2 277.4L165.1 277.0L166.0 276.5L167.0 277.4L167.9 276.4L168.8 276.5L169.8 276.4L170.7 277.5L171.6 276.5L172.6 276.1L173.5 276.7L174.4 276.2L175.4 277.3L176.3 275.8L177.2 276.4L178.2 275.6L179.1 276.8L180.0 275.6L181.0 276.0L181.9 275.5L182.8 276.2L183.8 276.0L184.7 274.7L185.6 276.1L186.5 276.0L187.5 275.7L188.4 276.0L189.3 275.0L190.3 274.7L191.2 275.8L192.1 276.3L193.1 274.9L194.0 274.9L194.9 275.0L195.9 274.9L196.8 275.8L197.7 275.4L198.7 276.0L199.6 276.0L200.5 274.9L201.5 275.6L202.4 274.3L203.3 275.3L204.3 275.6L205.2 274.9L206.1 274.5L207.1 275.1L208.0 275.9L208.9 275.1L209.8 274.7L210.8 275.5L211.7 275.6L212.6 274.8L213.6 275.2L214.5 275.8L215.4 275.4L216.4 275.6L217.3 275.1L218.2 275.2L219.2 274.7L220.1 274.9L221.0 276.0L222.0 275.0L222.9 274.8L223.8 275.0L224.8 274.8L225.7 275.5L226.6 275.7L227.6 274.8L228.5 275.7L229.4 276.2L230.4 274.7L231.3 275.5L232.2 275.3L233.1 275.8L234.1 275.8L235.0 275.7L235.9 275.3L236.9 275.0L237.8 276.2L238.7 274.8L239.7 275.7L240.6 275.6L241.5 274.8L242.5 275.2L243.4 275.8L244.3 274.3L245.3 275.5L246.2 275.0L247.1 275.0L248.1 274.4L249.0 275.3L249.9 274.6L250.9 275.4L251.8 274.5L252.7 275.3L253.7 275.1L254.6 274.1L255.5 274.8L256.4 274.9L257.4 273.9L258.3 274.7L259.2 275.2L260.2 274.5L261.1 275.3L262.0 274.3L263.0 274.2L263.9 275.0L264.8 275.0L265.8 274.6L266.7 274.6L267.6 275.0L268.6 274.3L269.5 275.5L270.4 274.7L271.4 274.7L272.3 274.6L273.2 274.3L274.2 274.9L275.1 274.1L276.0 274.4L277.0 274.6L277.9 274.8L278.8 274.7L279.7 274.0L280.7 274.5L281.6 274.0L282.5 273.5L283.5 273.5L284.4 273.2L285.3 274.0L286.3 274.3L287.2 273.3L288.1 273.6L289.1 273.2L290.0 273.6L290.9 273.0L291.9 273.1L292.8 273.1L293.7 273.1L294.7 273.1L295.6 273.1L296.5 273.0L297.5 272.6L298.4 273.1L299.3 272.0L300.3 272.7L301.2 272.1L302.1 272.5L303.0 272.4L304.0 271.3L304.9 272.2L305.8 272.5L306.8 272.1L307.7 271.8L308.6 270.5L309.6 271.3L310.5 270.8L311.4 271.6L312.4 270.8L313.3 270.5L314.2 269.9L315.2 270.9L316.1 270.1L317.0 270.1L318.0 270.6L318.9 270.0L319.8 270.0L320.8 270.8L321.7 269.3L322.6 269.2L323.6 269.5L324.5 269.8L325.4 268.4L326.3 268.8L327.3 268.3L328.2 268.0L329.1 268.7L330.1 268.0L331.0 268.3L331.9 268.1L332.9 267.9L333.8 267.7L334.7 267.1L335.7 267.4L336.6 267.3L337.5 267.2L338.5 266.8L339.4 267.2L340.3 266.8L341.3 266.5L342.2 266.5L343.1 266.1L344.1 266.2L345.0 264.8L345.9 264.9L346.9 265.1L347.8 265.2L348.7 263.9L349.6 264.6L350.6 264.6L351.5 264.2L352.4 264.0L353.4 263.3L354.3 263.8L355.2 262.6L356.2 263.7L357.1 262.8L358.0 263.4L359.0 261.9L359.9 262.7L360.8 262.4L361.8 261.7L362.7 261.3L363.6 262.2L364.6 261.7L365.5 262.0L366.4 261.1L367.4 261.0L368.3 260.9L369.2 260.8L370.2 260.5L371.1 260.5L372.0 259.7L372.9 259.1L373.9 260.5L374.8 259.5L375.7 259.4L376.7 258.8L377.6 259.3L378.5 258.8L379.5 259.0L380.4 258.1L381.3 258.2L382.3 258.2L383.2 257.8L384.1 257.9L385.1 258.4L386.0 257.2L386.9 257.2L387.9 257.3L388.8 256.6L389.7 256.4L390.7 257.3L391.6 257.0L392.5 255.8L393.5 255.7L394.4 256.5L395.3 256.6L396.2 256.2L397.2 256.0L398.1 256.4L399.0 255.5L400.0 256.0L400.9 255.8L401.8 254.7L402.8 255.3L403.7 254.9L404.6 254.4L405.6 254.2L406.5 254.6L407.4 254.3L408.4 254.6L409.3 253.3L410.2 253.7L411.2 254.4L412.1 253.7L413.0 253.3L414.0 253.3L414.9 252.6L415.8 252.7L416.8 253.4L417.7 253.1L418.6 253.5L419.5 252.7L420.5 252.7L421.4 251.4L422.3 252.5L423.3 253.4L424.2 252.7L425.1 252.2L426.1 252.8L427.0 252.5L427.9 252.2L428.9 251.8L429.8 251.9L430.7 252.2L431.7 251.3L432.6 251.8L433.5 251.8L434.5 252.1L435.4 251.7L436.3 251.0L437.3 252.0L438.2 251.2L439.1 250.8L440.1 251.2L441.0 250.9L441.9 251.4L442.8 250.3L443.8 250.3L444.7 250.6L445.6 251.5L446.6 251.1L447.5 250.1L448.4 249.7L449.4 250.3L450.3 249.8L451.2 250.6L452.2 250.4L453.1 250.2L454.0 250.0L455.0 250.8L455.9 249.6L456.8 249.4L457.8 250.5L458.7 250.5L459.6 249.7L460.6 250.1L461.5 250.8L462.4 249.3L463.4 249.6L464.3 249.8L465.2 248.6L466.1 249.4L467.1 249.8L468.0 249.3L468.9 249.8L469.9 249.6L470.8 249.0L471.7 249.4L472.7 249.3L473.6 248.2L474.5 248.5L475.5 248.5L476.4 248.5L477.3 248.5L478.3 248.0L479.2 248.6L480.1 247.6L481.1 248.9L482.0 248.5L482.9 248.9L483.9 248.4L484.8 247.9L485.7 247.4L486.7 248.3L487.6 247.9L488.5 248.0L489.4 248.1L490.4 248.3L491.3 247.6L492.2 248.4L493.2 247.4L494.1 247.4L495.0 247.6L496.0 247.7L496.9 247.8L497.8 246.2L498.8 247.6L499.7 246.2L500.6 246.6L501.6 247.0L502.5 247.2L503.4 246.1L504.4 245.7L505.3 246.9L506.2 246.5L507.2 245.8L508.1 246.0L509.0 245.2L510.0 246.3L510.9 245.7L511.8 246.4L512.7 244.8L513.7 246.0L514.6 246.5L515.5 245.5L516.5 245.4L517.4 244.4L518.3 245.3L519.3 245.0L520.2 244.6L521.1 244.1L522.1 244.7L523.0 244.1L523.9 244.2L524.9 244.5L525.8 244.2L526.7 244.1L527.7 244.4L528.6 243.3L529.5 244.4L530.5 243.0L531.4 243.0L532.3 243.3L533.3 243.5L534.2 243.1L535.1 242.6L536.0 242.4L537.0 242.4L537.9 241.9L538.8 242.5L539.8 242.0L540.7 242.6L541.6 241.4L542.6 241.5L543.5 241.6L544.4 240.7L545.4 240.7L546.3 242.2L547.2 240.7L548.2 241.2L549.1 239.8L550.0 239.0L551.0 240.2L551.9 239.7L552.8 239.7L553.8 239.2L554.7 238.9L555.6 238.4L556.6 239.3L557.5 237.9L558.4 238.9L559.3 238.1L560.3 237.5L561.2 237.5L562.1 238.1L563.1 237.8L564.0 237.5L564.9 237.1L565.9 236.4L566.8 237.3L567.7 236.3L568.7 236.0L569.6 235.9L570.5 235.7L571.5 235.1L572.4 235.3L573.3 235.0L574.3 234.9L575.2 234.1L576.1 235.6L577.1 234.0L578.0 234.5L578.9 234.3L579.9 234.4L580.8 234.6L581.7 233.7L582.6 233.6L583.6 232.9L584.5 233.6L585.4 232.0L586.4 232.3L587.3 232.4L588.2 232.4L589.2 232.2L590.1 232.1L591.0 231.6L592.0 231.2L592.9 231.0L593.8 231.4L594.8 230.6L595.7 230.7L596.6 230.0L597.6 229.0L598.5 229.3L599.4 229.5L600.4 229.9L601.3 229.5L602.2 229.4L603.2 228.1L604.1 228.5L605.0 227.9L605.9 228.0L606.9 227.4L607.8 226.6L608.7 227.3L609.7 226.9L610.6 226.9L611.5 225.9L612.5 226.5L613.4 226.3L614.3 226.2L615.3 226.0L615.5 224.8" stroke="#f0282d" stroke-width="1.6" fill="none" stroke-dasharray="3 4.5" stroke-linejoin="round"/>
<path d="M57.0 272.9L57.6 287.6L58.1 279.6L58.7 282.4L59.2 288.0L59.8 284.6L60.4 284.3L60.9 286.2L61.5 275.4L62.0 291.2L62.6 281.7L63.2 281.9L63.7 285.6L64.3 282.6L64.8 279.5L65.4 282.5L65.9 281.4L66.5 280.2L67.1 291.4L67.6 276.9L68.2 273.6L68.7 278.9L69.3 278.7L69.9 288.7L70.4 283.3L71.0 286.2L71.5 285.2L72.1 278.7L72.7 286.0L73.2 283.2L73.8 290.5L74.3 283.3L74.9 282.2L75.5 285.4L76.0 285.5L76.6 274.7L77.1 287.4L77.7 286.7L78.2 285.7L78.8 277.4L79.4 273.6L79.9 280.9L80.5 285.2L81.0 283.9L81.6 277.7L82.2 285.9L82.7 276.1L83.3 276.2L83.8 281.7L84.4 279.3L85.0 278.8L85.5 275.4L86.1 286.2L86.6 276.9L87.2 283.3L87.8 284.9L88.3 281.2L88.9 282.5L89.4 285.7L90.0 288.1L90.6 285.4L91.1 275.5L91.7 273.3L92.2 278.7L92.8 276.4L93.3 283.4L93.9 281.6L94.5 280.0L95.0 285.6L95.6 285.2L96.1 280.7L96.7 282.4L97.3 285.4L97.8 279.4L98.4 282.0L98.9 276.6L99.5 280.8L100.1 282.0L100.6 280.2L101.2 281.4L101.7 283.4L102.3 282.3L102.9 277.5L103.4 277.8L104.0 275.2L104.5 287.4L105.1 282.0L105.7 282.0L106.2 279.6L106.8 282.1L107.3 282.3L107.9 276.9L108.4 279.3L109.0 284.8L109.6 274.5L110.1 275.8L110.7 282.2L111.2 276.4L111.8 282.8L112.4 275.0L112.9 280.5L113.5 282.9L114.0 281.1L114.6 282.6L115.2 278.6L115.7 278.6L116.3 279.1L116.8 281.5L117.4 294.3L118.0 278.7L118.5 286.9L119.1 277.9L119.6 274.2L120.2 277.7L120.7 280.4L121.3 279.4L121.9 279.2L122.4 280.8L123.0 280.9L123.5 282.3L124.1 273.5L124.7 278.4L125.2 274.3L125.8 279.2L126.3 277.8L126.9 278.8L127.5 276.1L128.0 274.5L128.6 276.9L129.1 280.6L129.7 281.0L130.3 270.8L130.8 278.8L131.4 278.7L131.9 271.4L132.5 272.9L133.1 275.1L133.6 278.9L134.2 267.5L134.7 275.5L135.3 274.8L135.8 277.7L136.4 282.8L137.0 282.4L137.5 275.2L138.1 275.2L138.6 277.7L139.2 281.5L139.8 282.6L140.3 277.9L140.9 282.5L141.4 272.7L142.0 271.6L142.6 264.7L143.1 272.7L143.7 278.7L144.2 279.8L144.8 290.4L145.4 278.5L145.9 276.8L146.5 272.0L147.0 273.4L147.6 273.5L148.1 275.0L148.7 273.1L149.3 269.8L149.8 280.1L150.4 277.6L150.9 281.4L151.5 268.9L152.1 270.2L152.6 272.4L153.2 280.4L153.7 274.7L154.3 276.4L154.9 275.0L155.4 276.1L156.0 273.1L156.5 276.9L157.1 271.7L157.7 274.2L158.2 276.3L158.8 275.5L159.3 276.8L159.9 271.6L160.5 276.1L161.0 273.7L161.6 276.5L162.1 281.0L162.7 271.0L163.2 279.1L163.8 271.9L164.4 272.9L164.9 281.5L165.5 278.5L166.0 276.7L166.6 277.9L167.2 279.3L167.7 271.4L168.3 275.4L168.8 272.7L169.4 276.1L170.0 273.0L170.5 277.3L171.1 274.3L171.6 271.7L172.2 273.9L172.8 276.0L173.3 278.5L173.9 273.3L174.4 272.5L175.0 275.0L175.6 277.1L176.1 271.6L176.7 263.6L177.2 275.0L177.8 272.4L178.3 272.2L178.9 284.3L179.5 273.2L180.0 276.6L180.6 267.9L181.1 274.6L181.7 276.8L182.3 274.4L182.8 272.8L183.4 275.8L183.9 273.7L184.5 279.0L185.1 274.3L185.6 270.2L186.2 265.2L186.7 270.4L187.3 272.2L187.9 268.4L188.4 269.1L189.0 266.4L189.5 268.8L190.1 273.7L190.6 272.1L191.2 272.4L191.8 271.9L192.3 272.3L192.9 276.4L193.4 281.8L194.0 275.9L194.6 281.5L195.1 272.8L195.7 273.1L196.2 280.0L196.8 270.2L197.4 269.5L197.9 272.7L198.5 266.2L199.0 265.3L199.6 278.0L200.2 268.8L200.7 271.2L201.3 271.3L201.8 269.2L202.4 276.0L203.0 275.5L203.5 276.4L204.1 276.1L204.6 273.4L205.2 279.0L205.7 277.3L206.3 270.6L206.9 273.3L207.4 271.4L208.0 280.8L208.5 276.2L209.1 275.3L209.7 272.9L210.2 275.4L210.8 269.1L211.3 273.2L211.9 272.9L212.5 272.9L213.0 270.0L213.6 274.9L214.1 268.3L214.7 271.1L215.3 272.3L215.8 272.8L216.4 270.8L216.9 268.8L217.5 269.1L218.0 271.4L218.6 269.3L219.2 272.5L219.7 267.8L220.3 273.1L220.8 281.5L221.4 267.4L222.0 272.5L222.5 277.8L223.1 273.8L223.6 276.6L224.2 264.3L224.8 270.9L225.3 279.4L225.9 270.7L226.4 274.6L227.0 265.0L227.6 277.3L228.1 282.2L228.7 272.6L229.2 274.4L229.8 274.6L230.4 281.8L230.9 271.1L231.5 266.0L232.0 280.8L232.6 268.1L233.1 275.2L233.7 263.2L234.3 271.1L234.8 273.7L235.4 268.3L235.9 270.7L236.5 275.3L237.1 269.9L237.6 275.0L238.2 280.3L238.7 264.5L239.3 274.3L239.9 275.4L240.4 271.4L241.0 279.3L241.5 278.4L242.1 274.9L242.7 275.0L243.2 272.5L243.8 268.2L244.3 274.8L244.9 270.8L245.5 270.3L246.0 277.3L246.6 271.8L247.1 276.7L247.7 268.4L248.2 270.9L248.8 272.7L249.4 278.3L249.9 272.3L250.5 275.9L251.0 269.8L251.6 273.2L252.2 276.1L252.7 268.9L253.3 269.7L253.8 275.1L254.4 267.9L255.0 273.9L255.5 273.9L256.1 272.1L256.6 275.7L257.2 274.4L257.8 273.2L258.3 266.2L258.9 266.4L259.4 273.6L260.0 265.9L260.5 272.7L261.1 270.9L261.7 268.8L262.2 271.3L262.8 262.5L263.3 271.4L263.9 277.4L264.5 267.0L265.0 274.1L265.6 273.6L266.1 284.7L266.7 268.2L267.3 268.9L267.8 269.0L268.4 268.2L268.9 265.3L269.5 272.4L270.1 268.3L270.6 275.3L271.2 273.6L271.7 267.8L272.3 270.5L272.9 277.6L273.4 270.6L274.0 272.8L274.5 275.4L275.1 270.2L275.6 273.7L276.2 278.5L276.8 276.6L277.3 264.6L277.9 278.2L278.4 271.0L279.0 269.4L279.6 269.2L280.1 276.9L280.7 273.1L281.2 271.2L281.8 268.4L282.4 274.4L282.9 276.5L283.5 267.5L284.0 267.1L284.6 270.1L285.2 274.1L285.7 269.9L286.3 271.1L286.8 268.0L287.4 276.6L287.9 271.0L288.5 272.1L289.1 276.0L289.6 270.5L290.2 271.2L290.7 273.0L291.3 269.6L291.9 277.1L292.4 271.4L293.0 269.4L293.5 269.9L294.1 266.6L294.7 276.0L295.2 277.2L295.8 269.9L296.3 269.0L296.9 262.0L297.5 268.2L298.0 274.3L298.6 267.3L299.1 274.0L299.7 276.6L300.3 259.6L300.8 269.0L301.4 267.3L301.9 267.8L302.5 262.6L303.0 268.8L303.6 264.9L304.2 274.1L304.7 275.5L305.3 263.8L305.8 263.5L306.4 267.4L307.0 268.5L307.5 268.7L308.1 272.1L308.6 262.9L309.2 266.4L309.8 267.0L310.3 267.4L310.9 264.6L311.4 266.7L312.0 265.6L312.6 273.5L313.1 266.4L313.7 259.4L314.2 270.5L314.8 268.8L315.4 264.5L315.9 264.2L316.5 265.5L317.0 274.7L317.6 265.8L318.1 272.7L318.7 271.2L319.3 265.4L319.8 268.8L320.4 264.2L320.9 254.4L321.5 264.1L322.1 264.3L322.6 270.9L323.2 269.8L323.7 271.4L324.3 269.1L324.9 271.4L325.4 269.5L326.0 267.5L326.5 270.7L327.1 272.4L327.7 272.1L328.2 264.5L328.8 266.0L329.3 261.9L329.9 261.8L330.4 267.4L331.0 263.1L331.6 271.8L332.1 256.3L332.7 260.7L333.2 266.4L333.8 270.2L334.4 263.8L334.9 273.0L335.5 268.4L336.0 262.0L336.6 264.7L337.2 266.9L337.7 260.9L338.3 269.0L338.8 263.4L339.4 266.5L340.0 267.9L340.5 262.4L341.1 268.3L341.6 256.2L342.2 266.4L342.8 255.6L343.3 268.3L343.9 261.1L344.4 268.5L345.0 268.9L345.5 262.6L346.1 260.4L346.7 268.3L347.2 258.1L347.8 266.1L348.3 262.2L348.9 261.0L349.5 260.0L350.0 269.8L350.6 255.6L351.1 259.8L351.7 263.8L352.3 266.1L352.8 268.8L353.4 267.3L353.9 259.3L354.5 262.8L355.1 266.0L355.6 263.3L356.2 254.6L356.7 262.3L357.3 263.2L357.8 255.1L358.4 258.6L359.0 260.3L359.5 262.8L360.1 266.6L360.6 264.9L361.2 261.9L361.8 260.7L362.3 258.2L362.9 257.3L363.4 258.5L364.0 258.4L364.6 263.4L365.1 268.0L365.7 261.1L366.2 262.8L366.8 261.4L367.4 259.8L367.9 263.6L368.5 263.0L369.0 258.7L369.6 257.7L370.2 260.8L370.7 255.9L371.3 258.7L371.8 261.9L372.4 257.4L372.9 249.7L373.5 260.2L374.1 252.4L374.6 251.5L375.2 250.9L375.7 260.3L376.3 248.5L376.9 256.3L377.4 257.7L378.0 257.5L378.5 253.9L379.1 256.1L379.7 257.0L380.2 250.8L380.8 259.0L381.3 260.3L381.9 252.6L382.5 252.9L383.0 251.2L383.6 260.0L384.1 251.0L384.7 253.4L385.3 248.0L385.8 260.4L386.4 254.2L386.9 256.2L387.5 261.5L388.0 257.8L388.6 250.1L389.2 256.6L389.7 257.6L390.3 250.9L390.8 250.4L391.4 250.3L392.0 257.5L392.5 254.4L393.1 249.8L393.6 256.7L394.2 257.0L394.8 250.4L395.3 247.3L395.9 258.4L396.4 264.3L397.0 259.5L397.6 257.6L398.1 253.9L398.7 250.7L399.2 253.8L399.8 256.0L400.3 252.4L400.9 256.9L401.5 253.1L402.0 255.4L402.6 241.6L403.1 249.3L403.7 256.0L404.3 256.6L404.8 254.2L405.4 259.1L405.9 255.3L406.5 255.2L407.1 248.4L407.6 253.8L408.2 255.2L408.7 257.4L409.3 256.7L409.9 252.0L410.4 252.5L411.0 246.9L411.5 254.1L412.1 247.1L412.7 250.3L413.2 251.3L413.8 259.5L414.3 256.5L414.9 248.0L415.4 245.3L416.0 250.1L416.6 247.7L417.1 252.5L417.7 252.3L418.2 253.4L418.8 246.6L419.4 249.2L419.9 251.5L420.5 251.8L421.0 248.1L421.6 249.0L422.2 253.7L422.7 243.1L423.3 249.1L423.8 250.1L424.4 243.9L425.0 245.8L425.5 250.3L426.1 247.7L426.6 254.2L427.2 252.4L427.7 259.1L428.3 244.6L428.9 257.5L429.4 246.8L430.0 253.0L430.5 253.5L431.1 250.2L431.7 248.3L432.2 246.8L432.8 242.0L433.3 247.8L433.9 245.6L434.5 251.6L435.0 246.2L435.6 248.4L436.1 250.9L436.7 249.4L437.3 249.2L437.8 248.1L438.4 247.2L438.9 250.9L439.5 251.8L440.1 245.7L440.6 255.7L441.2 251.2L441.7 242.2L442.3 259.8L442.8 251.4L443.4 245.7L444.0 255.3L444.5 237.7L445.1 259.1L445.6 242.4L446.2 241.9L446.8 244.5L447.3 249.2L447.9 246.8L448.4 251.9L449.0 244.8L449.6 252.8L450.1 249.2L450.7 244.0L451.2 252.7L451.8 249.5L452.4 247.3L452.9 253.5L453.5 243.1L454.0 246.5L454.6 254.1L455.2 248.0L455.7 251.0L456.3 250.5L456.8 247.4L457.4 250.6L457.9 243.7L458.5 250.5L459.1 243.5L459.6 247.7L460.2 244.0L460.7 249.7L461.3 249.6L461.9 252.2L462.4 245.0L463.0 243.5L463.5 238.6L464.1 242.0L464.7 246.2L465.2 248.1L465.8 245.6L466.3 247.3L466.9 241.1L467.5 243.2L468.0 250.5L468.6 249.9L469.1 241.3L469.7 245.7L470.2 247.9L470.8 242.0L471.4 248.4L471.9 248.0L472.5 248.7L473.0 254.8L473.6 243.1L474.2 251.6L474.7 249.0L475.3 249.6L475.8 243.5L476.4 246.8L477.0 246.4L477.5 253.3L478.1 246.7L478.6 252.4L479.2 245.0L479.8 244.7L480.3 246.3L480.9 237.7L481.4 243.9L482.0 243.6L482.6 245.4L483.1 246.8L483.7 241.9L484.2 241.3L484.8 251.2L485.3 241.4L485.9 243.6L486.5 241.7L487.0 243.7L487.6 250.8L488.1 250.4L488.7 238.0L489.3 244.5L489.8 251.3L490.4 244.0L490.9 246.9L491.5 252.9L492.1 254.7L492.6 251.9L493.2 244.1L493.7 245.3L494.3 246.1L494.9 243.9L495.4 242.5L496.0 253.6L496.5 246.2L497.1 248.3L497.6 249.9L498.2 247.0L498.8 245.2L499.3 245.8L499.9 250.6L500.4 246.6L501.0 236.2L501.6 248.8L502.1 251.4L502.7 243.3L503.2 241.9L503.8 242.4L504.4 248.9L504.9 240.1L505.5 247.4L506.0 248.8L506.6 246.5L507.2 244.4L507.7 241.0L508.3 241.3L508.8 243.9L509.4 239.9L510.0 243.4L510.5 240.0L511.1 249.4L511.6 250.0L512.2 240.3L512.7 249.2L513.3 244.6L513.9 243.7L514.4 245.3L515.0 245.1L515.5 237.4L516.1 253.5L516.7 239.4L517.2 233.5L517.8 242.8L518.3 242.9L518.9 239.8L519.5 235.2L520.0 247.6L520.6 242.2L521.1 243.3L521.7 240.1L522.3 241.7L522.8 239.6L523.4 244.0L523.9 242.0L524.5 244.9L525.1 244.8L525.6 242.6L526.2 242.5L526.7 246.7L527.3 235.3L527.8 242.2L528.4 247.3L529.0 237.0L529.5 244.5L530.1 239.2L530.6 241.3L531.2 240.1L531.8 240.4L532.3 243.4L532.9 240.8L533.4 232.4L534.0 250.0L534.6 240.4L535.1 238.8L535.7 244.8L536.2 246.0L536.8 231.4L537.4 241.7L537.9 231.5L538.5 237.8L539.0 239.6L539.6 237.8L540.1 237.1L540.7 234.7L541.3 237.7L541.8 238.8L542.4 238.6L542.9 233.6L543.5 235.7L544.1 243.1L544.6 241.5L545.2 237.4L545.7 241.2L546.3 240.1L546.9 242.4L547.4 239.4L548.0 236.5L548.5 234.0L549.1 238.0L549.7 229.3L550.2 238.1L550.8 224.5L551.3 233.4L551.9 235.4L552.5 239.4L553.0 248.9L553.6 237.8L554.1 236.3L554.7 229.0L555.2 242.5L555.8 228.8L556.4 237.6L556.9 233.5L557.5 246.8L558.0 235.7L558.6 237.5L559.2 233.2L559.7 235.5L560.3 240.5L560.8 231.7L561.4 232.7L562.0 233.0L562.5 231.1L563.1 230.6L563.6 235.2L564.2 240.6L564.8 240.6L565.3 229.1L565.9 231.7L566.4 234.1L567.0 236.2L567.5 234.1L568.1 234.0L568.7 235.4L569.2 236.8L569.8 224.9L570.3 232.7L570.9 236.1L571.5 238.8L572.0 236.3L572.6 230.2L573.1 230.0L573.7 233.9L574.3 232.6L574.8 234.0L575.4 237.2L575.9 227.1L576.5 230.8L577.1 222.0L577.6 235.3L578.2 232.6L578.7 228.2L579.3 232.8L579.9 237.4L580.4 235.4L581.0 231.0L581.5 229.9L582.1 231.5L582.6 226.9L583.2 226.8L583.8 229.4L584.3 230.5L584.9 231.6L585.4 228.1L586.0 226.5L586.6 229.9L587.1 228.1L587.7 231.2L588.2 235.6L588.8 233.8L589.4 226.3L589.9 227.5L590.5 222.7L591.0 228.9L591.6 225.4L592.2 223.4L592.7 224.6L593.3 231.1L593.8 229.2L594.4 227.8L595.0 232.2L595.5 226.1L596.1 223.7L596.6 229.7L597.2 219.5L597.7 228.7L598.3 228.2L598.9 228.2L599.4 230.0L600.0 225.2L600.5 226.7L601.1 219.8L601.7 224.0L602.2 224.1L602.8 227.1L603.3 231.9L603.9 226.3L604.5 229.3L605.0 221.7L605.6 225.7L606.1 218.5L606.7 222.2L607.3 221.6L607.8 224.0L608.4 223.9L608.9 222.0L609.5 220.7L610.0 227.3L610.6 222.2L611.2 213.3L611.7 224.3L612.3 224.9L612.8 226.5L613.4 229.5L614.0 218.4L614.5 223.0L615.1 221.8L615.5 215.3L615.5 212.4" stroke="#4cb762" stroke-width="1.4" fill="none" stroke-dasharray="11.5 4.5" stroke-linejoin="round"/>
<rect x="57" y="204.6" width="558.5" height="91.8" fill="none" stroke="#262626" stroke-width="1"/>
<path d="M149.6 296.4v-5.5M149.6 204.6v5.5M243.6 296.4v-5.5M243.6 204.6v5.5M336.4 296.4v-5.5M336.4 204.6v5.5M430 296.4v-5.5M430 204.6v5.5M522.6 296.4v-5.5M522.6 204.6v5.5M57 250.7h5.5M615.5 250.7h-5.5" stroke="#262626" stroke-width="1" fill="none"/>
<g font-size="14" fill="#262626">
<text x="57" y="316.6" text-anchor="middle">0</text>
<text x="149.6" y="316.6" text-anchor="middle">5</text>
<text x="243.6" y="316.6" text-anchor="middle">10</text>
<text x="336.4" y="316.6" text-anchor="middle">15</text>
<text x="430" y="316.6" text-anchor="middle">20</text>
<text x="522.6" y="316.6" text-anchor="middle">25</text>
<text x="615.6" y="316.6" text-anchor="middle">30</text>
<text x="51.5" y="302.8" text-anchor="end">0</text>
<text x="51.5" y="256.2" text-anchor="end">10</text>
<text x="51.5" y="210.1" text-anchor="end">20</text>
</g>
<text x="336.6" y="336.6" font-size="16.2" fill="#262626" text-anchor="middle">Time (s)</text>
<text transform="translate(29.8 250.5) rotate(-90)" font-size="16.2" fill="#262626" text-anchor="middle">Vy (m/s)</text>
<text x="336" y="197.7" font-size="16.1" fill="#000" text-anchor="middle">Y-axis wind speed vs Time</text>
</g>
<g id="ax2">
<path d="M149.6 366.65V458.45M243.6 366.65V458.45M336.4 366.65V458.45M430 366.65V458.45M522.6 366.65V458.45M57 412.6H615.5" stroke="#dfdfdf" stroke-width="1" fill="none"/>
<path d="M57.0 447.0L58.9 446.9L60.7 446.8L62.6 446.6L64.5 446.5L66.3 446.4L68.2 446.3L70.0 446.1L71.9 446.0L73.8 445.9L75.6 445.7L77.5 445.6L79.4 445.4L81.2 445.3L83.1 445.1L85.0 445.0L86.8 444.8L88.7 444.7L90.6 444.5L92.4 444.3L94.3 444.2L96.1 444.0L98.0 443.8L99.9 443.6L101.7 443.5L103.6 443.3L105.5 443.1L107.3 442.9L109.2 442.7L111.1 442.5L112.9 442.2L114.8 442.0L116.6 441.7L118.5 441.5L120.4 441.2L122.2 441.0L124.1 440.7L126.0 440.5L127.8 440.2L129.7 439.9L131.6 439.7L133.4 439.4L135.3 439.2L137.2 438.9L139.0 438.7L140.9 438.5L142.7 438.2L144.6 438.0L146.5 437.8L148.3 437.6L150.2 437.5L152.1 437.3L153.9 437.1L155.8 437.0L157.7 436.8L159.5 436.6L161.4 436.5L163.2 436.3L165.1 436.1L167.0 436.0L168.8 435.8L170.7 435.7L172.6 435.5L174.4 435.4L176.3 435.2L178.2 435.1L180.0 435.0L181.9 434.9L183.8 434.8L185.6 434.7L187.5 434.6L189.3 434.5L191.2 434.4L193.1 434.4L194.9 434.3L196.8 434.3L198.7 434.3L200.5 434.3L202.4 434.2L204.3 434.2L206.1 434.2L208.0 434.2L209.8 434.2L211.7 434.2L213.6 434.2L215.4 434.2L217.3 434.2L219.2 434.1L221.0 434.1L222.9 434.1L224.8 434.1L226.6 434.1L228.5 434.1L230.4 434.1L232.2 434.1L234.1 434.1L235.9 434.1L237.8 434.0L239.7 434.0L241.5 434.0L243.4 434.0L245.3 434.0L247.1 433.9L249.0 433.9L250.9 433.9L252.7 433.8L254.6 433.8L256.4 433.7L258.3 433.7L260.2 433.6L262.0 433.6L263.9 433.5L265.8 433.4L267.6 433.4L269.5 433.3L271.4 433.2L273.2 433.1L275.1 433.0L277.0 432.9L278.8 432.8L280.7 432.7L282.5 432.6L284.4 432.5L286.3 432.4L288.1 432.3L290.0 432.2L291.9 432.1L293.7 431.9L295.6 431.7L297.5 431.4L299.3 431.2L301.2 430.9L303.0 430.6L304.9 430.3L306.8 430.0L308.6 429.6L310.5 429.3L312.4 429.0L314.2 428.6L316.1 428.3L318.0 428.0L319.8 427.7L321.7 427.3L323.6 427.0L325.4 426.7L327.3 426.3L329.1 426.0L331.0 425.6L332.9 425.2L334.7 424.9L336.6 424.5L338.5 424.1L340.3 423.7L342.2 423.3L344.1 422.8L345.9 422.4L347.8 421.9L349.6 421.4L351.5 421.0L353.4 420.5L355.2 420.0L357.1 419.5L359.0 419.0L360.8 418.5L362.7 418.0L364.6 417.5L366.4 417.0L368.3 416.6L370.2 416.1L372.0 415.6L373.9 415.2L375.7 414.8L377.6 414.3L379.5 413.9L381.3 413.6L383.2 413.2L385.1 412.8L386.9 412.5L388.8 412.1L390.7 411.8L392.5 411.4L394.4 411.1L396.2 410.8L398.1 410.4L400.0 410.1L401.8 409.8L403.7 409.5L405.6 409.1L407.4 408.8L409.3 408.5L411.2 408.3L413.0 408.0L414.9 407.7L416.8 407.4L418.6 407.2L420.5 406.9L422.3 406.7L424.2 406.4L426.1 406.2L427.9 406.0L429.8 405.8L431.7 405.6L433.5 405.4L435.4 405.3L437.3 405.1L439.1 404.9L441.0 404.8L442.8 404.6L444.7 404.5L446.6 404.3L448.4 404.2L450.3 404.1L452.2 403.9L454.0 403.8L455.9 403.7L457.8 403.6L459.6 403.4L461.5 403.3L463.4 403.2L465.2 403.0L467.1 402.9L468.9 402.7L470.8 402.6L472.7 402.4L474.5 402.3L476.4 402.1L478.3 401.9L480.1 401.8L482.0 401.6L483.9 401.4L485.7 401.3L487.6 401.1L489.4 400.9L491.3 400.7L493.2 400.5L495.0 400.4L496.9 400.2L498.8 400.0L500.6 399.8L502.5 399.6L504.4 399.4L506.2 399.2L508.1 399.0L510.0 398.8L511.8 398.5L513.7 398.3L515.5 398.1L517.4 397.8L519.3 397.6L521.1 397.3L523.0 397.0L524.9 396.8L526.7 396.5L528.6 396.2L530.5 395.8L532.3 395.5L534.2 395.1L536.0 394.8L537.9 394.4L539.8 394.0L541.6 393.6L543.5 393.2L545.4 392.7L547.2 392.3L549.1 391.9L551.0 391.4L552.8 391.0L554.7 390.5L556.6 390.1L558.4 389.6L560.3 389.1L562.1 388.7L564.0 388.2L565.9 387.7L567.7 387.3L569.6 386.8L571.5 386.3L573.3 385.9L575.2 385.4L577.1 384.9L578.9 384.4L580.8 383.9L582.6 383.4L584.5 382.9L586.4 382.4L588.2 381.8L590.1 381.3L592.0 380.8L593.8 380.2L595.7 379.7L597.6 379.2L599.4 378.6L601.3 378.0L603.2 377.5L605.0 376.9L606.9 376.3L608.7 375.8L610.6 375.2L612.5 374.6L614.3 374.0L615.5 373.4" stroke="#1f4fb4" stroke-width="1.4" fill="none" stroke-linejoin="round"/>
<path d="M57.0 446.5L57.9 446.0L58.9 446.0L59.8 446.0L60.7 446.0L61.7 446.0L62.6 445.6L63.5 445.8L64.5 445.8L65.4 445.5L66.3 445.5L67.3 445.5L68.2 445.5L69.1 445.1L70.0 445.3L71.0 445.4L71.9 445.5L72.8 445.3L73.8 445.4L74.7 445.1L75.6 445.0L76.6 445.4L77.5 444.9L78.4 444.7L79.4 444.7L80.3 444.9L81.2 444.3L82.2 444.7L83.1 444.7L84.0 444.6L85.0 444.3L85.9 444.0L86.8 443.9L87.8 444.0L88.7 444.2L89.6 444.0L90.6 444.0L91.5 443.8L92.4 444.0L93.3 443.5L94.3 443.3L95.2 443.4L96.1 443.2L97.1 443.4L98.0 443.5L98.9 443.2L99.9 442.7L100.8 442.6L101.7 442.9L102.7 442.4L103.6 442.7L104.5 442.2L105.5 442.3L106.4 442.4L107.3 442.0L108.3 442.3L109.2 442.2L110.1 442.2L111.1 441.7L112.0 441.7L112.9 441.6L113.9 441.5L114.8 441.0L115.7 441.3L116.6 441.2L117.6 440.6L118.5 440.5L119.4 440.6L120.4 440.9L121.3 440.6L122.2 440.2L123.2 440.2L124.1 439.7L125.0 440.2L126.0 439.6L126.9 439.8L127.8 439.2L128.8 439.4L129.7 439.0L130.6 439.3L131.6 439.3L132.5 439.1L133.4 438.9L134.4 438.8L135.3 438.2L136.2 438.1L137.2 438.2L138.1 438.4L139.0 438.0L139.9 438.0L140.9 437.4L141.8 437.6L142.7 437.4L143.7 437.5L144.6 437.8L145.5 437.4L146.5 437.4L147.4 437.0L148.3 436.9L149.3 437.1L150.2 436.9L151.1 436.3L152.1 436.8L153.0 436.7L153.9 436.5L154.9 436.5L155.8 436.4L156.7 436.1L157.7 435.7L158.6 436.4L159.5 436.0L160.5 435.9L161.4 435.8L162.3 435.7L163.2 435.7L164.2 435.3L165.1 435.6L166.0 435.4L167.0 435.3L167.9 435.2L168.8 435.2L169.8 434.8L170.7 435.0L171.6 434.9L172.6 434.8L173.5 435.0L174.4 434.9L175.4 434.9L176.3 434.5L177.2 434.7L178.2 434.7L179.1 434.3L180.0 434.2L181.0 434.6L181.9 433.8L182.8 434.1L183.8 434.1L184.7 433.8L185.6 434.0L186.5 434.1L187.5 433.4L188.4 434.1L189.3 433.8L190.3 433.6L191.2 434.0L192.1 433.7L193.1 433.6L194.0 433.1L194.9 433.9L195.9 433.6L196.8 433.5L197.7 433.6L198.7 433.9L199.6 433.5L200.5 433.6L201.5 433.5L202.4 433.3L203.3 433.3L204.3 433.4L205.2 433.5L206.1 433.8L207.1 433.6L208.0 433.5L208.9 433.6L209.8 433.5L210.8 433.7L211.7 433.1L212.6 433.0L213.6 433.6L214.5 433.4L215.4 433.5L216.4 433.2L217.3 433.4L218.2 433.4L219.2 433.5L220.1 433.4L221.0 433.7L222.0 433.3L222.9 433.6L223.8 433.3L224.8 433.4L225.7 433.2L226.6 433.4L227.6 433.2L228.5 433.6L229.4 433.3L230.4 433.5L231.3 433.4L232.2 433.4L233.1 433.2L234.1 433.8L235.0 433.3L235.9 433.7L236.9 433.1L237.8 433.8L238.7 433.6L239.7 433.7L240.6 433.0L241.5 433.6L242.5 433.3L243.4 433.4L244.3 433.7L245.3 433.4L246.2 433.1L247.1 433.3L248.1 433.0L249.0 433.3L249.9 433.2L250.9 433.3L251.8 433.1L252.7 432.7L253.7 433.0L254.6 433.1L255.5 433.2L256.4 433.2L257.4 432.7L258.3 433.3L259.2 433.2L260.2 433.0L261.1 433.0L262.0 432.4L263.0 433.4L263.9 432.7L264.8 432.6L265.8 433.0L266.7 432.9L267.6 432.6L268.6 432.3L269.5 432.8L270.4 432.9L271.4 432.3L272.3 432.1L273.2 432.5L274.2 432.9L275.1 432.0L276.0 432.3L277.0 432.0L277.9 432.2L278.8 432.2L279.7 432.2L280.7 431.7L281.6 431.7L282.5 432.4L283.5 432.1L284.4 431.4L285.3 431.9L286.3 432.1L287.2 431.7L288.1 431.7L289.1 431.6L290.0 431.6L290.9 431.5L291.9 431.5L292.8 431.2L293.7 431.4L294.7 431.2L295.6 431.0L296.5 430.6L297.5 430.7L298.4 430.7L299.3 430.4L300.3 430.3L301.2 430.0L302.1 429.9L303.0 429.5L304.0 429.4L304.9 429.6L305.8 429.5L306.8 429.1L307.7 429.0L308.6 429.0L309.6 429.1L310.5 429.0L311.4 428.4L312.4 428.1L313.3 427.9L314.2 428.2L315.2 427.5L316.1 427.7L317.0 427.4L318.0 427.2L318.9 427.3L319.8 427.1L320.8 427.3L321.7 426.9L322.6 426.9L323.6 426.2L324.5 426.1L325.4 425.8L326.3 425.7L327.3 425.8L328.2 425.4L329.1 425.4L330.1 425.0L331.0 424.9L331.9 425.0L332.9 424.6L333.8 424.4L334.7 424.3L335.7 423.8L336.6 423.4L337.5 423.7L338.5 423.5L339.4 423.7L340.3 423.0L341.3 422.9L342.2 423.1L343.1 422.3L344.1 422.0L345.0 422.1L345.9 421.8L346.9 421.7L347.8 421.0L348.7 421.3L349.6 420.8L350.6 420.1L351.5 420.3L352.4 419.9L353.4 419.8L354.3 419.8L355.2 419.3L356.2 419.0L357.1 419.0L358.0 418.5L359.0 418.0L359.9 417.8L360.8 418.2L361.8 417.8L362.7 417.7L363.6 416.8L364.6 416.7L365.5 416.4L366.4 416.6L367.4 416.4L368.3 415.9L369.2 415.6L370.2 415.6L371.1 415.2L372.0 414.8L372.9 414.7L373.9 414.8L374.8 414.8L375.7 414.1L376.7 413.8L377.6 413.7L378.5 413.6L379.5 413.4L380.4 412.9L381.3 412.9L382.3 412.7L383.2 412.7L384.1 412.5L385.1 412.1L386.0 412.2L386.9 412.1L387.9 411.7L388.8 411.2L389.7 411.2L390.7 410.8L391.6 411.0L392.5 410.8L393.5 410.9L394.4 410.5L395.3 409.9L396.2 410.0L397.2 409.7L398.1 409.6L399.0 409.6L400.0 409.5L400.9 409.2L401.8 408.9L402.8 408.8L403.7 408.7L404.6 408.6L405.6 408.6L406.5 408.4L407.4 408.4L408.4 407.8L409.3 408.3L410.2 407.8L411.2 407.0L412.1 407.5L413.0 407.5L414.0 407.1L414.9 406.7L415.8 406.9L416.8 406.6L417.7 406.6L418.6 406.6L419.5 405.6L420.5 406.2L421.4 406.2L422.3 406.1L423.3 405.8L424.2 405.7L425.1 405.5L426.1 405.5L427.0 405.8L427.9 405.2L428.9 405.3L429.8 405.2L430.7 405.4L431.7 405.1L432.6 405.0L433.5 404.7L434.5 405.0L435.4 404.6L436.3 404.5L437.3 404.7L438.2 404.5L439.1 404.4L440.1 404.0L441.0 404.7L441.9 404.1L442.8 404.3L443.8 404.0L444.7 403.6L445.6 403.9L446.6 403.6L447.5 403.8L448.4 403.1L449.4 403.2L450.3 403.1L451.2 403.6L452.2 403.5L453.1 402.9L454.0 403.2L455.0 403.1L455.9 402.9L456.8 403.2L457.8 402.7L458.7 402.8L459.6 402.6L460.6 402.8L461.5 402.5L462.4 402.7L463.4 402.2L464.3 402.1L465.2 402.1L466.1 402.1L467.1 402.0L468.0 402.7L468.9 401.9L469.9 402.0L470.8 401.9L471.7 401.9L472.7 402.1L473.6 401.8L474.5 401.4L475.5 401.2L476.4 401.6L477.3 401.5L478.3 400.9L479.2 401.4L480.1 400.6L481.1 401.0L482.0 401.1L482.9 400.6L483.9 400.3L484.8 401.0L485.7 400.2L486.7 400.5L487.6 400.0L488.5 400.4L489.4 400.6L490.4 400.0L491.3 399.8L492.2 399.5L493.2 399.5L494.1 399.6L495.0 399.7L496.0 399.7L496.9 399.6L497.8 399.6L498.8 399.4L499.7 399.8L500.6 399.1L501.6 399.0L502.5 398.3L503.4 398.6L504.4 398.8L505.3 398.5L506.2 398.8L507.2 398.5L508.1 398.7L509.0 397.8L510.0 397.9L510.9 398.2L511.8 397.9L512.7 397.5L513.7 397.5L514.6 397.4L515.5 397.6L516.5 397.4L517.4 397.1L518.3 396.8L519.3 397.1L520.2 397.0L521.1 396.4L522.1 396.7L523.0 396.1L523.9 396.2L524.9 395.9L525.8 395.5L526.7 395.6L527.7 395.4L528.6 395.7L529.5 395.5L530.5 395.0L531.4 394.6L532.3 394.5L533.3 394.1L534.2 394.4L535.1 394.2L536.0 393.8L537.0 393.9L537.9 393.7L538.8 393.7L539.8 393.1L540.7 393.3L541.6 392.8L542.6 393.0L543.5 392.2L544.4 392.5L545.4 391.9L546.3 392.2L547.2 391.7L548.2 391.1L549.1 391.4L550.0 390.9L551.0 390.8L551.9 391.0L552.8 390.2L553.8 390.0L554.7 390.1L555.6 389.5L556.6 389.6L557.5 389.4L558.4 388.9L559.3 388.8L560.3 387.9L561.2 388.6L562.1 387.8L563.1 387.5L564.0 388.0L564.9 387.7L565.9 386.9L566.8 386.9L567.7 386.5L568.7 386.1L569.6 386.2L570.5 386.1L571.5 386.3L572.4 385.4L573.3 385.4L574.3 384.9L575.2 384.6L576.1 384.8L577.1 383.8L578.0 383.7L578.9 383.5L579.9 383.7L580.8 383.3L581.7 383.1L582.6 382.8L583.6 382.7L584.5 382.1L585.4 381.9L586.4 381.6L587.3 381.5L588.2 380.9L589.2 380.9L590.1 381.3L591.0 380.5L592.0 380.1L592.9 379.6L593.8 379.6L594.8 379.3L595.7 379.2L596.6 378.6L597.6 378.6L598.5 378.3L599.4 378.1L600.4 377.5L601.3 377.5L602.2 377.5L603.2 376.6L604.1 376.7L605.0 376.1L605.9 375.8L606.9 375.4L607.8 375.1L608.7 375.2L609.7 374.8L610.6 374.8L611.5 373.8L612.5 373.8L613.4 373.3L614.3 373.4L615.3 373.5L615.5 372.4" stroke="#f0282d" stroke-width="1.6" fill="none" stroke-dasharray="2.5 4.5" stroke-linejoin="round"/>
<path d="M57.0 444.9L57.6 444.7L58.1 444.9L58.7 443.7L59.2 443.9L59.8 447.8L60.4 442.8L60.9 445.8L61.5 445.6L62.0 441.6L62.6 443.0L63.2 445.3L63.7 448.0L64.3 444.3L64.8 443.6L65.4 444.7L65.9 446.8L66.5 445.9L67.1 446.7L67.6 444.0L68.2 442.8L68.7 442.4L69.3 445.6L69.9 443.8L70.4 443.1L71.0 445.1L71.5 444.4L72.1 440.1L72.7 443.6L73.2 442.3L73.8 444.7L74.3 443.8L74.9 447.0L75.5 443.8L76.0 441.6L76.6 439.9L77.1 441.5L77.7 442.4L78.2 443.5L78.8 444.6L79.4 443.8L79.9 442.3L80.5 444.8L81.0 441.6L81.6 445.1L82.2 446.5L82.7 445.1L83.3 446.2L83.8 445.6L84.4 441.0L85.0 443.4L85.5 442.6L86.1 440.8L86.6 440.6L87.2 443.8L87.8 440.3L88.3 442.0L88.9 442.7L89.4 441.8L90.0 445.2L90.6 444.0L91.1 442.7L91.7 441.3L92.2 443.1L92.8 442.6L93.3 440.5L93.9 439.6L94.5 440.8L95.0 439.8L95.6 442.8L96.1 442.6L96.7 441.4L97.3 442.5L97.8 442.8L98.4 438.8L98.9 442.1L99.5 443.5L100.1 440.8L100.6 438.2L101.2 441.4L101.7 439.2L102.3 442.3L102.9 442.3L103.4 442.6L104.0 441.6L104.5 437.9L105.1 443.3L105.7 438.1L106.2 442.9L106.8 441.4L107.3 439.4L107.9 439.7L108.4 440.3L109.0 443.8L109.6 440.0L110.1 442.5L110.7 435.8L111.2 440.9L111.8 440.1L112.4 442.5L112.9 441.2L113.5 442.6L114.0 438.3L114.6 440.5L115.2 439.0L115.7 441.2L116.3 440.8L116.8 437.4L117.4 441.5L118.0 442.9L118.5 438.8L119.1 441.6L119.6 440.2L120.2 437.6L120.7 440.7L121.3 437.5L121.9 440.3L122.4 436.3L123.0 436.5L123.5 439.7L124.1 439.2L124.7 440.2L125.2 438.2L125.8 436.4L126.3 441.1L126.9 436.7L127.5 440.7L128.0 439.8L128.6 441.4L129.1 434.2L129.7 437.9L130.3 437.5L130.8 439.1L131.4 435.8L131.9 441.5L132.5 437.5L133.1 433.5L133.6 438.1L134.2 437.3L134.7 436.1L135.3 438.7L135.8 437.1L136.4 435.3L137.0 436.6L137.5 436.2L138.1 437.5L138.6 436.2L139.2 436.6L139.8 434.0L140.3 435.2L140.9 437.0L141.4 440.9L142.0 435.1L142.6 434.9L143.1 437.9L143.7 439.8L144.2 438.2L144.8 434.4L145.4 438.0L145.9 436.8L146.5 435.5L147.0 433.6L147.6 435.8L148.1 435.9L148.7 436.7L149.3 432.6L149.8 433.6L150.4 435.7L150.9 438.0L151.5 436.9L152.1 434.3L152.6 436.6L153.2 433.6L153.7 434.5L154.3 434.6L154.9 433.9L155.4 434.1L156.0 436.6L156.5 435.6L157.1 430.6L157.7 437.1L158.2 435.7L158.8 432.8L159.3 435.0L159.9 436.1L160.5 437.0L161.0 433.6L161.6 432.6L162.1 431.9L162.7 434.3L163.2 432.4L163.8 436.2L164.4 433.9L164.9 435.5L165.5 433.8L166.0 432.7L166.6 432.1L167.2 435.8L167.7 431.6L168.3 434.8L168.8 435.8L169.4 434.1L170.0 436.5L170.5 433.7L171.1 433.2L171.6 434.0L172.2 432.6L172.8 434.1L173.3 433.5L173.9 436.1L174.4 433.3L175.0 434.9L175.6 434.2L176.1 433.5L176.7 432.9L177.2 436.2L177.8 436.1L178.3 433.7L178.9 432.2L179.5 432.4L180.0 431.4L180.6 430.6L181.1 432.1L181.7 433.0L182.3 434.8L182.8 434.6L183.4 433.7L183.9 432.3L184.5 432.4L185.1 432.7L185.6 433.0L186.2 431.5L186.7 432.3L187.3 432.1L187.9 432.0L188.4 433.6L189.0 434.5L189.5 431.6L190.1 431.8L190.6 432.9L191.2 433.2L191.8 428.3L192.3 433.8L192.9 432.8L193.4 431.9L194.0 434.5L194.6 432.2L195.1 429.1L195.7 430.7L196.2 431.2L196.8 431.3L197.4 432.1L197.9 430.6L198.5 432.6L199.0 433.1L199.6 432.1L200.2 430.7L200.7 431.7L201.3 431.1L201.8 436.0L202.4 430.1L203.0 428.0L203.5 429.8L204.1 432.9L204.6 433.8L205.2 431.8L205.7 434.1L206.3 430.9L206.9 433.2L207.4 430.5L208.0 429.8L208.5 436.0L209.1 431.7L209.7 433.5L210.2 434.8L210.8 433.4L211.3 432.6L211.9 430.3L212.5 435.0L213.0 430.3L213.6 428.5L214.1 431.1L214.7 431.2L215.3 432.2L215.8 434.4L216.4 431.2L216.9 431.5L217.5 430.9L218.0 427.5L218.6 430.9L219.2 431.4L219.7 429.3L220.3 434.7L220.8 434.3L221.4 432.9L222.0 433.4L222.5 430.9L223.1 432.8L223.6 429.0L224.2 429.4L224.8 430.8L225.3 432.9L225.9 431.0L226.4 430.7L227.0 434.1L227.6 431.5L228.1 430.9L228.7 431.8L229.2 429.3L229.8 429.9L230.4 433.7L230.9 431.9L231.5 433.7L232.0 431.1L232.6 433.7L233.1 430.4L233.7 431.4L234.3 430.3L234.8 432.4L235.4 434.8L235.9 428.9L236.5 432.4L237.1 429.6L237.6 431.3L238.2 430.9L238.7 428.7L239.3 431.5L239.9 429.5L240.4 434.8L241.0 430.5L241.5 432.5L242.1 432.3L242.7 432.0L243.2 431.4L243.8 429.0L244.3 435.4L244.9 431.9L245.5 433.3L246.0 429.9L246.6 432.8L247.1 431.1L247.7 432.7L248.2 430.7L248.8 430.1L249.4 432.7L249.9 431.8L250.5 434.5L251.0 431.4L251.6 430.3L252.2 432.9L252.7 429.8L253.3 435.7L253.8 435.3L254.4 434.4L255.0 432.7L255.5 431.8L256.1 431.9L256.6 431.9L257.2 430.4L257.8 432.6L258.3 434.1L258.9 434.0L259.4 427.8L260.0 436.0L260.5 432.0L261.1 429.0L261.7 430.7L262.2 433.1L262.8 431.6L263.3 430.0L263.9 429.3L264.5 433.2L265.0 430.1L265.6 431.0L266.1 429.4L266.7 428.9L267.3 432.1L267.8 434.1L268.4 430.7L268.9 428.1L269.5 430.1L270.1 430.9L270.6 426.9L271.2 433.2L271.7 429.6L272.3 432.3L272.9 431.1L273.4 431.0L274.0 428.4L274.5 432.8L275.1 432.1L275.6 434.0L276.2 430.1L276.8 431.8L277.3 430.2L277.9 432.9L278.4 431.6L279.0 429.0L279.6 431.2L280.1 429.7L280.7 429.8L281.2 431.4L281.8 433.6L282.4 428.9L282.9 430.4L283.5 428.8L284.0 434.3L284.6 433.6L285.2 434.5L285.7 432.1L286.3 428.6L286.8 429.4L287.4 430.5L287.9 430.1L288.5 428.9L289.1 430.9L289.6 429.5L290.2 430.0L290.7 434.2L291.3 430.9L291.9 427.6L292.4 430.8L293.0 430.3L293.5 431.1L294.1 430.8L294.7 427.8L295.2 430.3L295.8 431.6L296.3 435.3L296.9 430.6L297.5 433.1L298.0 432.8L298.6 427.9L299.1 428.0L299.7 432.7L300.3 427.5L300.8 428.2L301.4 430.4L301.9 427.5L302.5 431.7L303.0 430.9L303.6 431.2L304.2 430.5L304.7 426.8L305.3 430.7L305.8 430.3L306.4 429.8L307.0 427.6L307.5 428.5L308.1 426.2L308.6 429.0L309.2 429.9L309.8 428.4L310.3 427.3L310.9 429.0L311.4 426.7L312.0 423.7L312.6 428.1L313.1 426.8L313.7 424.3L314.2 427.9L314.8 428.1L315.4 428.5L315.9 425.7L316.5 425.4L317.0 426.5L317.6 426.0L318.1 423.7L318.7 424.3L319.3 428.4L319.8 425.8L320.4 425.5L320.9 424.2L321.5 425.9L322.1 426.5L322.6 426.1L323.2 428.4L323.7 425.1L324.3 426.1L324.9 424.0L325.4 426.7L326.0 425.5L326.5 426.4L327.1 426.4L327.7 423.1L328.2 425.1L328.8 423.3L329.3 426.1L329.9 423.8L330.4 426.9L331.0 424.6L331.6 424.5L332.1 422.4L332.7 423.1L333.2 423.6L333.8 421.6L334.4 422.7L334.9 422.0L335.5 421.4L336.0 422.9L336.6 423.2L337.2 421.9L337.7 423.1L338.3 421.6L338.8 420.1L339.4 420.5L340.0 422.6L340.5 424.1L341.1 421.7L341.6 421.7L342.2 419.4L342.8 422.0L343.3 421.5L343.9 419.6L344.4 421.7L345.0 421.0L345.5 417.4L346.1 417.7L346.7 419.2L347.2 419.7L347.8 421.8L348.3 418.9L348.9 419.6L349.5 419.2L350.0 420.4L350.6 419.3L351.1 419.5L351.7 418.5L352.3 416.3L352.8 418.1L353.4 421.6L353.9 420.2L354.5 421.2L355.1 419.6L355.6 417.0L356.2 417.1L356.7 418.8L357.3 417.1L357.8 418.8L358.4 419.9L359.0 419.7L359.5 418.6L360.1 414.2L360.6 419.1L361.2 414.3L361.8 414.0L362.3 416.6L362.9 416.2L363.4 417.1L364.0 415.9L364.6 414.5L365.1 415.5L365.7 413.6L366.2 413.1L366.8 414.5L367.4 414.4L367.9 414.9L368.5 414.0L369.0 416.6L369.6 413.6L370.2 413.9L370.7 415.7L371.3 410.0L371.8 415.6L372.4 415.3L372.9 413.1L373.5 417.0L374.1 414.8L374.6 416.0L375.2 414.8L375.7 413.2L376.3 412.2L376.9 410.6L377.4 411.1L378.0 410.2L378.5 411.2L379.1 413.0L379.7 410.0L380.2 412.8L380.8 412.9L381.3 408.9L381.9 410.2L382.5 411.1L383.0 410.0L383.6 409.7L384.1 413.7L384.7 411.2L385.3 413.1L385.8 410.6L386.4 412.0L386.9 408.1L387.5 409.6L388.0 411.9L388.6 410.4L389.2 412.4L389.7 410.0L390.3 409.0L390.8 409.4L391.4 413.3L392.0 410.3L392.5 408.7L393.1 408.9L393.6 407.3L394.2 411.6L394.8 408.2L395.3 410.3L395.9 408.6L396.4 408.1L397.0 407.5L397.6 409.7L398.1 408.2L398.7 410.6L399.2 411.0L399.8 407.3L400.3 408.3L400.9 411.1L401.5 409.6L402.0 407.9L402.6 405.0L403.1 405.8L403.7 406.2L404.3 410.8L404.8 407.6L405.4 406.5L405.9 406.5L406.5 406.4L407.1 407.5L407.6 403.7L408.2 404.2L408.7 407.0L409.3 408.5L409.9 402.8L410.4 407.5L411.0 404.2L411.5 402.9L412.1 408.0L412.7 405.7L413.2 406.7L413.8 405.1L414.3 405.3L414.9 402.3L415.4 404.7L416.0 405.7L416.6 403.5L417.1 406.0L417.7 406.1L418.2 401.3L418.8 406.8L419.4 406.1L419.9 405.1L420.5 407.0L421.0 408.9L421.6 403.0L422.2 406.3L422.7 405.8L423.3 405.4L423.8 406.4L424.4 406.5L425.0 404.2L425.5 400.0L426.1 403.0L426.6 402.9L427.2 407.0L427.7 404.2L428.3 406.3L428.9 402.6L429.4 404.4L430.0 403.9L430.5 404.0L431.1 404.9L431.7 406.6L432.2 402.6L432.8 406.2L433.3 405.8L433.9 404.1L434.5 404.8L435.0 403.0L435.6 401.5L436.1 402.9L436.7 402.9L437.3 403.2L437.8 401.6L438.4 406.5L438.9 402.4L439.5 404.8L440.1 405.3L440.6 402.9L441.2 403.6L441.7 401.8L442.3 400.8L442.8 407.0L443.4 402.9L444.0 399.1L444.5 401.1L445.1 400.0L445.6 402.4L446.2 405.2L446.8 404.5L447.3 401.1L447.9 400.6L448.4 403.7L449.0 402.8L449.6 401.8L450.1 405.5L450.7 402.8L451.2 399.2L451.8 398.1L452.4 402.3L452.9 398.7L453.5 403.0L454.0 403.5L454.6 406.0L455.2 400.1L455.7 402.5L456.3 397.5L456.8 401.2L457.4 401.4L457.9 405.0L458.5 398.9L459.1 402.3L459.6 401.9L460.2 405.6L460.7 399.8L461.3 399.6L461.9 402.5L462.4 401.2L463.0 400.6L463.5 399.5L464.1 401.1L464.7 398.1L465.2 401.6L465.8 402.2L466.3 401.9L466.9 405.7L467.5 402.5L468.0 399.1L468.6 400.4L469.1 402.4L469.7 400.2L470.2 404.5L470.8 401.3L471.4 399.7L471.9 399.4L472.5 402.0L473.0 398.9L473.6 397.1L474.2 401.2L474.7 399.0L475.3 403.2L475.8 403.9L476.4 399.1L477.0 400.1L477.5 399.8L478.1 401.2L478.6 400.6L479.2 398.5L479.8 396.8L480.3 400.3L480.9 402.9L481.4 397.5L482.0 398.6L482.6 398.4L483.1 399.3L483.7 395.3L484.2 399.4L484.8 398.5L485.3 402.8L485.9 400.4L486.5 400.6L487.0 399.3L487.6 398.6L488.1 400.5L488.7 395.9L489.3 401.0L489.8 399.8L490.4 398.5L490.9 401.2L491.5 397.8L492.1 397.6L492.6 399.3L493.2 395.2L493.7 398.5L494.3 398.1L494.9 400.3L495.4 401.5L496.0 399.6L496.5 398.9L497.1 399.1L497.6 396.8L498.2 402.6L498.8 400.2L499.3 401.4L499.9 395.5L500.4 399.0L501.0 398.8L501.6 399.9L502.1 396.1L502.7 398.5L503.2 397.2L503.8 401.3L504.4 395.4L504.9 396.7L505.5 396.4L506.0 395.1L506.6 397.6L507.2 397.5L507.7 395.8L508.3 396.3L508.8 397.5L509.4 396.9L510.0 397.8L510.5 395.5L511.1 395.0L511.6 396.7L512.2 393.2L512.7 399.4L513.3 396.9L513.9 393.3L514.4 397.1L515.0 399.2L515.5 393.6L516.1 395.1L516.7 398.3L517.2 394.6L517.8 397.8L518.3 398.3L518.9 396.0L519.5 396.6L520.0 397.6L520.6 396.2L521.1 397.3L521.7 395.3L522.3 395.3L522.8 393.8L523.4 396.0L523.9 397.5L524.5 397.4L525.1 395.3L525.6 392.0L526.2 393.1L526.7 395.8L527.3 392.8L527.8 396.5L528.4 392.5L529.0 394.9L529.5 392.7L530.1 392.9L530.6 394.4L531.2 393.2L531.8 395.7L532.3 393.8L532.9 391.5L533.4 385.9L534.0 392.0L534.6 393.0L535.1 394.9L535.7 391.0L536.2 395.9L536.8 394.2L537.4 392.0L537.9 394.7L538.5 389.6L539.0 390.3L539.6 393.2L540.1 393.1L540.7 394.3L541.3 394.4L541.8 390.9L542.4 390.4L542.9 390.8L543.5 390.8L544.1 392.2L544.6 390.4L545.2 393.6L545.7 390.8L546.3 387.9L546.9 388.1L547.4 391.3L548.0 390.9L548.5 387.6L549.1 386.7L549.7 392.6L550.2 390.5L550.8 389.2L551.3 387.2L551.9 390.9L552.5 388.0L553.0 389.6L553.6 384.5L554.1 388.0L554.7 388.9L555.2 389.1L555.8 386.4L556.4 387.0L556.9 390.1L557.5 387.6L558.0 390.3L558.6 389.1L559.2 389.9L559.7 389.9L560.3 388.5L560.8 388.9L561.4 386.0L562.0 385.4L562.5 387.1L563.1 388.6L563.6 384.9L564.2 390.0L564.8 389.7L565.3 384.7L565.9 384.7L566.4 383.9L567.0 386.0L567.5 387.8L568.1 386.2L568.7 384.1L569.2 386.4L569.8 386.2L570.3 387.3L570.9 386.8L571.5 382.9L572.0 383.5L572.6 386.3L573.1 386.0L573.7 384.9L574.3 382.7L574.8 385.8L575.4 383.8L575.9 387.3L576.5 385.5L577.1 382.2L577.6 381.2L578.2 384.9L578.7 384.0L579.3 381.0L579.9 383.0L580.4 383.1L581.0 381.0L581.5 381.5L582.1 379.6L582.6 380.1L583.2 382.4L583.8 381.4L584.3 381.2L584.9 383.4L585.4 382.6L586.0 378.8L586.6 383.4L587.1 378.5L587.7 379.6L588.2 380.2L588.8 378.8L589.4 378.8L589.9 377.3L590.5 380.1L591.0 379.6L591.6 379.5L592.2 375.4L592.7 377.0L593.3 380.2L593.8 379.0L594.4 379.5L595.0 378.0L595.5 377.5L596.1 373.5L596.6 380.9L597.2 375.5L597.7 376.4L598.3 378.4L598.9 377.2L599.4 377.6L600.0 376.5L600.5 374.5L601.1 379.0L601.7 373.6L602.2 376.6L602.8 372.9L603.3 374.8L603.9 373.1L604.5 374.2L605.0 373.0L605.6 374.8L606.1 376.2L606.7 373.3L607.3 373.0L607.8 370.3L608.4 377.7L608.9 374.2L609.5 371.7L610.0 375.8L610.6 373.7L611.2 369.2L611.7 370.3L612.3 374.4L612.8 370.0L613.4 370.2L614.0 370.8L614.5 371.3L615.1 371.4L615.5 373.3L615.5 372.5" stroke="#4cb762" stroke-width="1.4" fill="none" stroke-dasharray="11.5 4.5" stroke-linejoin="round"/>
<rect x="57" y="366.65" width="558.5" height="91.8" fill="none" stroke="#262626" stroke-width="1"/>
<path d="M149.6 458.45v-5.5M149.6 366.65v5.5M243.6 458.45v-5.5M243.6 366.65v5.5M336.4 458.45v-5.5M336.4 366.65v5.5M430 458.45v-5.5M430 366.65v5.5M522.6 458.45v-5.5M522.6 366.65v5.5M57 412.6h5.5M615.5 412.6h-5.5" stroke="#262626" stroke-width="1" fill="none"/>
<g font-size="14" fill="#262626">
<text x="57" y="478.65" text-anchor="middle">0</text>
<text x="149.6" y="478.65" text-anchor="middle">5</text>
<text x="243.6" y="478.65" text-anchor="middle">10</text>
<text x="336.4" y="478.65" text-anchor="middle">15</text>
<text x="430" y="478.65" text-anchor="middle">20</text>
<text x="522.6" y="478.65" text-anchor="middle">25</text>
<text x="615.6" y="478.65" text-anchor="middle">30</text>
<text x="51.5" y="464.85" text-anchor="end">0</text>
<text x="51.5" y="418.1" text-anchor="end">20</text>
<text x="51.5" y="372.15" text-anchor="end">40</text>
</g>
<text x="336.6" y="498.65" font-size="16.2" fill="#262626" text-anchor="middle">Time (s)</text>
<text transform="translate(29.8 412.55) rotate(-90)" font-size="16.2" fill="#262626" text-anchor="middle">Vz (m/s)</text>
<text x="336" y="359.75" font-size="16.1" fill="#000" text-anchor="middle">Z-axis wind speed vs Time</text>
</g>
<g id="legend">
<rect x="49.6" y="40.4" width="372.1" height="57.6" fill="#fff" stroke="#262626" stroke-width="1"/>
<path d="M53.5 51.5H105.9" stroke="#1f4fb4" stroke-width="1.2" fill="none"/>
<text x="110.3" y="58.2" font-size="13.66" fill="#000">actual Speed</text>
<path d="M53.5 70.4H105.9" stroke="#f0282d" stroke-width="1.2" stroke-dasharray="11.3 5.5" fill="none"/>
<text x="110.3" y="75.9" font-size="13.66" fill="#000">FADS/INS predicted</text>
<path d="M53.5 87.6H105.9" stroke="#4cb762" stroke-width="1.2" stroke-dasharray="11.3 5.5" fill="none"/>
<text x="110.3" y="94.4" font-size="13.66" fill="#000">Method of calculating navigation position predicted</text>
</g>
</svg>
</body></html>
